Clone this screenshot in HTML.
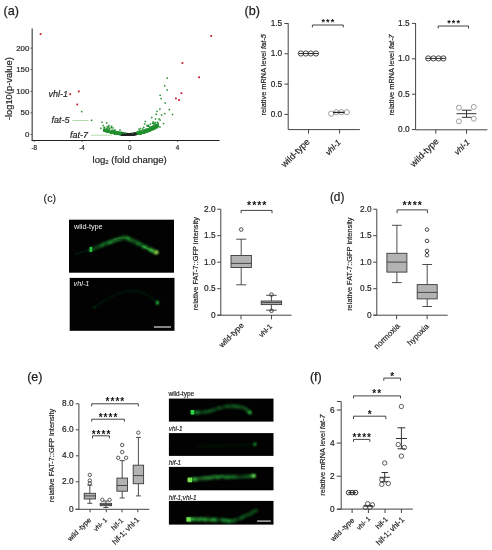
<!DOCTYPE html>
<html><head><meta charset="utf-8"><style>
html,body{margin:0;padding:0;background:#fff;}
svg{display:block;}
text{font-family:"Liberation Sans", Arial, Helvetica, sans-serif;}
</style></head><body>
<svg width="492" height="550" viewBox="0 0 492 550">
<rect x="0" y="0" width="492" height="550" fill="#fff"/>
<text x="3.50" y="15.00" font-size="12.6" text-anchor="start" fill="#222" stroke="#222" stroke-width="0.25">(a)</text>
<text x="244.60" y="15.00" font-size="12.6" text-anchor="start" fill="#222" stroke="#222" stroke-width="0.25">(b)</text>
<text x="43.6" y="201.6" font-size="11.6" textLength="12.4" lengthAdjust="spacingAndGlyphs" fill="#222" stroke="#222" stroke-width="0.15">(c)</text>
<text x="329.90" y="201.40" font-size="11.9" text-anchor="start" fill="#222" stroke="#222" stroke-width="0.2">(d)</text>
<text x="27.20" y="381.30" font-size="12.5" text-anchor="start" fill="#222" stroke="#222" stroke-width="0.25">(e)</text>
<text x="309.90" y="381.20" font-size="12.6" text-anchor="start" fill="#222" stroke="#222" stroke-width="0.25">(f)</text>
<line x1="32.20" y1="28.40" x2="32.20" y2="140.40" stroke="#555" stroke-width="1.3" />
<line x1="31.60" y1="140.50" x2="219.50" y2="140.50" stroke="#222" stroke-width="1.0" />
<line x1="30.40" y1="134.50" x2="32.20" y2="134.50" stroke="#444" stroke-width="0.8" />
<text x="29.30" y="137.00" font-size="7.9" text-anchor="end" fill="#222" stroke="#222" stroke-width="0.18">0</text>
<line x1="30.40" y1="112.90" x2="32.20" y2="112.90" stroke="#444" stroke-width="0.8" />
<text x="29.30" y="115.40" font-size="7.9" text-anchor="end" fill="#222" stroke="#222" stroke-width="0.18">50</text>
<line x1="30.40" y1="91.30" x2="32.20" y2="91.30" stroke="#444" stroke-width="0.8" />
<text x="29.30" y="93.80" font-size="7.9" text-anchor="end" fill="#222" stroke="#222" stroke-width="0.18">100</text>
<line x1="30.40" y1="69.70" x2="32.20" y2="69.70" stroke="#444" stroke-width="0.8" />
<text x="29.30" y="72.20" font-size="7.9" text-anchor="end" fill="#222" stroke="#222" stroke-width="0.18">150</text>
<line x1="30.40" y1="48.10" x2="32.20" y2="48.10" stroke="#444" stroke-width="0.8" />
<text x="29.30" y="50.60" font-size="7.9" text-anchor="end" fill="#222" stroke="#222" stroke-width="0.18">200</text>
<line x1="34.20" y1="140.40" x2="34.20" y2="142.00" stroke="#444" stroke-width="0.8" />
<text x="34.20" y="150.00" font-size="6.3" text-anchor="middle" fill="#222" stroke="#222" stroke-width="0.18">-8</text>
<line x1="82.00" y1="140.40" x2="82.00" y2="142.00" stroke="#444" stroke-width="0.8" />
<text x="82.00" y="150.00" font-size="6.3" text-anchor="middle" fill="#222" stroke="#222" stroke-width="0.18">-4</text>
<line x1="129.80" y1="140.40" x2="129.80" y2="142.00" stroke="#444" stroke-width="0.8" />
<text x="129.80" y="150.00" font-size="6.3" text-anchor="middle" fill="#222" stroke="#222" stroke-width="0.18">0</text>
<line x1="177.60" y1="140.40" x2="177.60" y2="142.00" stroke="#444" stroke-width="0.8" />
<text x="177.60" y="150.00" font-size="6.3" text-anchor="middle" fill="#222" stroke="#222" stroke-width="0.18">4</text>
<text x="12.00" y="88.70" font-size="9.4" text-anchor="middle" fill="#222" transform="rotate(-90 12.00 88.70)" stroke="#222" stroke-width="0.18">-log10(p-value)</text>
<text x="92.6" y="162.8" font-size="9.5" fill="#222" stroke="#222" stroke-width="0.18">log<tspan font-size="6" dy="1.2">2</tspan><tspan dy="-1.2"> (fold change)</tspan></text>
<text x="48.50" y="96.80" font-size="9" text-anchor="start" fill="#222" font-style="italic" stroke="#222" stroke-width="0.18">vhl-1</text>
<text x="51.40" y="122.70" font-size="9" text-anchor="start" fill="#222" font-style="italic" stroke="#222" stroke-width="0.18">fat-5</text>
<text x="69.90" y="137.60" font-size="9" text-anchor="start" fill="#222" font-style="italic" stroke="#222" stroke-width="0.18">fat-7</text>
<line x1="72.40" y1="120.50" x2="88.40" y2="120.50" stroke="#a8d8a0" stroke-width="0.9" />
<line x1="91.20" y1="135.20" x2="112.00" y2="135.20" stroke="#a8d8a0" stroke-width="0.9" />
<rect x="124.78" y="134.00" width="1.5" height="1.5" fill="#222"/>
<rect x="131.09" y="133.42" width="1.5" height="1.5" fill="#222"/>
<rect x="133.74" y="132.93" width="1.5" height="1.5" fill="#222"/>
<rect x="134.37" y="132.86" width="1.5" height="1.5" fill="#222"/>
<rect x="119.84" y="132.39" width="1.5" height="1.5" fill="#222"/>
<rect x="125.66" y="133.70" width="1.5" height="1.5" fill="#222"/>
<rect x="125.66" y="134.19" width="1.5" height="1.5" fill="#222"/>
<rect x="129.56" y="133.38" width="1.5" height="1.5" fill="#222"/>
<rect x="121.64" y="132.70" width="1.5" height="1.5" fill="#222"/>
<rect x="123.85" y="134.05" width="1.5" height="1.5" fill="#222"/>
<rect x="124.14" y="133.74" width="1.5" height="1.5" fill="#222"/>
<rect x="126.23" y="133.52" width="1.5" height="1.5" fill="#222"/>
<rect x="129.41" y="133.81" width="1.5" height="1.5" fill="#222"/>
<rect x="125.71" y="133.91" width="1.5" height="1.5" fill="#222"/>
<rect x="133.97" y="132.70" width="1.5" height="1.5" fill="#222"/>
<rect x="123.36" y="133.19" width="1.5" height="1.5" fill="#222"/>
<rect x="124.59" y="133.30" width="1.5" height="1.5" fill="#222"/>
<rect x="131.82" y="133.79" width="1.5" height="1.5" fill="#222"/>
<rect x="122.64" y="133.53" width="1.5" height="1.5" fill="#222"/>
<rect x="121.44" y="133.80" width="1.5" height="1.5" fill="#222"/>
<rect x="122.15" y="133.93" width="1.5" height="1.5" fill="#222"/>
<rect x="122.79" y="133.34" width="1.5" height="1.5" fill="#222"/>
<rect x="127.75" y="133.80" width="1.5" height="1.5" fill="#222"/>
<rect x="126.61" y="134.10" width="1.5" height="1.5" fill="#222"/>
<rect x="136.67" y="132.72" width="1.5" height="1.5" fill="#222"/>
<rect x="130.31" y="133.33" width="1.5" height="1.5" fill="#222"/>
<rect x="136.46" y="133.32" width="1.5" height="1.5" fill="#222"/>
<rect x="127.19" y="133.85" width="1.5" height="1.5" fill="#222"/>
<rect x="122.63" y="133.39" width="1.5" height="1.5" fill="#222"/>
<rect x="129.52" y="134.15" width="1.5" height="1.5" fill="#222"/>
<rect x="120.32" y="132.91" width="1.5" height="1.5" fill="#222"/>
<rect x="130.28" y="133.70" width="1.5" height="1.5" fill="#222"/>
<rect x="120.86" y="133.09" width="1.5" height="1.5" fill="#222"/>
<rect x="122.14" y="133.08" width="1.5" height="1.5" fill="#222"/>
<rect x="129.36" y="133.94" width="1.5" height="1.5" fill="#222"/>
<rect x="128.33" y="133.76" width="1.5" height="1.5" fill="#222"/>
<rect x="127.01" y="133.94" width="1.5" height="1.5" fill="#222"/>
<rect x="135.51" y="133.35" width="1.5" height="1.5" fill="#222"/>
<rect x="124.41" y="133.93" width="1.5" height="1.5" fill="#222"/>
<rect x="123.09" y="133.51" width="1.5" height="1.5" fill="#222"/>
<rect x="126.68" y="133.61" width="1.5" height="1.5" fill="#222"/>
<rect x="135.84" y="133.46" width="1.5" height="1.5" fill="#222"/>
<rect x="131.12" y="133.80" width="1.5" height="1.5" fill="#222"/>
<rect x="133.28" y="132.82" width="1.5" height="1.5" fill="#222"/>
<rect x="127.51" y="133.92" width="1.5" height="1.5" fill="#222"/>
<rect x="126.79" y="133.96" width="1.5" height="1.5" fill="#222"/>
<rect x="130.18" y="133.40" width="1.5" height="1.5" fill="#222"/>
<rect x="131.12" y="133.66" width="1.5" height="1.5" fill="#222"/>
<rect x="131.76" y="133.87" width="1.5" height="1.5" fill="#222"/>
<rect x="121.68" y="132.96" width="1.5" height="1.5" fill="#222"/>
<rect x="129.97" y="133.94" width="1.5" height="1.5" fill="#222"/>
<rect x="129.97" y="133.45" width="1.5" height="1.5" fill="#222"/>
<rect x="124.05" y="133.06" width="1.5" height="1.5" fill="#222"/>
<rect x="121.71" y="133.54" width="1.5" height="1.5" fill="#222"/>
<rect x="131.12" y="133.27" width="1.5" height="1.5" fill="#222"/>
<rect x="122.22" y="133.17" width="1.5" height="1.5" fill="#222"/>
<rect x="130.40" y="134.20" width="1.5" height="1.5" fill="#222"/>
<rect x="130.52" y="133.65" width="1.5" height="1.5" fill="#222"/>
<rect x="124.62" y="134.15" width="1.5" height="1.5" fill="#222"/>
<rect x="135.80" y="132.20" width="1.5" height="1.5" fill="#222"/>
<rect x="124.91" y="133.85" width="1.5" height="1.5" fill="#222"/>
<rect x="125.48" y="133.71" width="1.5" height="1.5" fill="#222"/>
<rect x="132.23" y="133.09" width="1.5" height="1.5" fill="#222"/>
<rect x="122.69" y="133.64" width="1.5" height="1.5" fill="#222"/>
<rect x="134.04" y="133.64" width="1.5" height="1.5" fill="#222"/>
<rect x="124.15" y="133.56" width="1.5" height="1.5" fill="#222"/>
<rect x="129.59" y="133.53" width="1.5" height="1.5" fill="#222"/>
<rect x="131.80" y="133.16" width="1.5" height="1.5" fill="#222"/>
<rect x="131.60" y="133.77" width="1.5" height="1.5" fill="#222"/>
<rect x="126.53" y="132.82" width="1.5" height="1.5" fill="#222"/>
<rect x="126.99" y="134.08" width="1.5" height="1.5" fill="#222"/>
<rect x="129.78" y="133.69" width="1.5" height="1.5" fill="#222"/>
<rect x="121.51" y="133.74" width="1.5" height="1.5" fill="#222"/>
<rect x="128.45" y="133.24" width="1.5" height="1.5" fill="#222"/>
<rect x="124.25" y="133.78" width="1.5" height="1.5" fill="#222"/>
<rect x="129.77" y="133.88" width="1.5" height="1.5" fill="#222"/>
<rect x="132.17" y="133.41" width="1.5" height="1.5" fill="#222"/>
<rect x="127.58" y="134.05" width="1.5" height="1.5" fill="#222"/>
<rect x="127.46" y="134.05" width="1.5" height="1.5" fill="#222"/>
<rect x="133.46" y="133.61" width="1.5" height="1.5" fill="#222"/>
<rect x="120.50" y="133.86" width="1.5" height="1.5" fill="#222"/>
<rect x="134.15" y="132.84" width="1.5" height="1.5" fill="#222"/>
<rect x="125.43" y="133.41" width="1.5" height="1.5" fill="#222"/>
<rect x="121.10" y="133.35" width="1.5" height="1.5" fill="#222"/>
<rect x="127.10" y="133.35" width="1.5" height="1.5" fill="#222"/>
<rect x="124.18" y="132.84" width="1.5" height="1.5" fill="#222"/>
<rect x="133.13" y="132.65" width="1.5" height="1.5" fill="#222"/>
<rect x="126.34" y="133.89" width="1.5" height="1.5" fill="#222"/>
<rect x="131.62" y="133.80" width="1.5" height="1.5" fill="#222"/>
<rect x="122.28" y="133.63" width="1.5" height="1.5" fill="#222"/>
<rect x="130.16" y="133.65" width="1.5" height="1.5" fill="#222"/>
<rect x="120.82" y="133.56" width="1.5" height="1.5" fill="#222"/>
<rect x="135.28" y="133.51" width="1.5" height="1.5" fill="#222"/>
<rect x="121.18" y="132.72" width="1.5" height="1.5" fill="#222"/>
<rect x="120.80" y="133.89" width="1.5" height="1.5" fill="#222"/>
<rect x="125.60" y="134.19" width="1.5" height="1.5" fill="#222"/>
<rect x="134.12" y="133.79" width="1.5" height="1.5" fill="#222"/>
<rect x="123.19" y="133.84" width="1.5" height="1.5" fill="#222"/>
<rect x="122.22" y="132.45" width="1.5" height="1.5" fill="#222"/>
<rect x="133.37" y="133.22" width="1.5" height="1.5" fill="#222"/>
<rect x="128.76" y="133.27" width="1.5" height="1.5" fill="#222"/>
<rect x="122.65" y="132.68" width="1.5" height="1.5" fill="#222"/>
<rect x="128.58" y="134.07" width="1.5" height="1.5" fill="#222"/>
<rect x="124.17" y="133.57" width="1.5" height="1.5" fill="#222"/>
<rect x="126.92" y="133.19" width="1.5" height="1.5" fill="#222"/>
<rect x="128.69" y="133.26" width="1.5" height="1.5" fill="#222"/>
<rect x="126.33" y="134.03" width="1.5" height="1.5" fill="#222"/>
<rect x="123.45" y="133.82" width="1.5" height="1.5" fill="#222"/>
<rect x="134.59" y="133.19" width="1.5" height="1.5" fill="#222"/>
<rect x="130.58" y="132.93" width="1.5" height="1.5" fill="#222"/>
<rect x="133.35" y="133.99" width="1.5" height="1.5" fill="#222"/>
<rect x="125.79" y="133.22" width="1.5" height="1.5" fill="#222"/>
<rect x="133.15" y="133.90" width="1.5" height="1.5" fill="#222"/>
<rect x="122.63" y="133.65" width="1.5" height="1.5" fill="#222"/>
<rect x="136.34" y="133.28" width="1.5" height="1.5" fill="#222"/>
<rect x="120.58" y="133.37" width="1.5" height="1.5" fill="#222"/>
<rect x="132.02" y="133.51" width="1.5" height="1.5" fill="#222"/>
<rect x="124.39" y="134.07" width="1.5" height="1.5" fill="#222"/>
<rect x="125.17" y="133.94" width="1.5" height="1.5" fill="#222"/>
<rect x="133.98" y="133.40" width="1.5" height="1.5" fill="#222"/>
<rect x="121.56" y="132.42" width="1.5" height="1.5" fill="#222"/>
<rect x="133.14" y="132.89" width="1.5" height="1.5" fill="#222"/>
<rect x="130.50" y="133.86" width="1.5" height="1.5" fill="#222"/>
<rect x="135.37" y="133.40" width="1.5" height="1.5" fill="#222"/>
<rect x="130.11" y="133.88" width="1.5" height="1.5" fill="#222"/>
<rect x="122.45" y="133.89" width="1.5" height="1.5" fill="#222"/>
<rect x="124.64" y="133.74" width="1.5" height="1.5" fill="#222"/>
<rect x="124.06" y="133.87" width="1.5" height="1.5" fill="#222"/>
<rect x="126.33" y="134.22" width="1.5" height="1.5" fill="#222"/>
<rect x="125.19" y="133.45" width="1.5" height="1.5" fill="#222"/>
<rect x="134.88" y="133.30" width="1.5" height="1.5" fill="#222"/>
<rect x="127.00" y="133.74" width="1.5" height="1.5" fill="#222"/>
<rect x="130.47" y="133.38" width="1.5" height="1.5" fill="#222"/>
<rect x="124.92" y="133.93" width="1.5" height="1.5" fill="#222"/>
<rect x="130.37" y="132.95" width="1.5" height="1.5" fill="#222"/>
<rect x="130.47" y="133.68" width="1.5" height="1.5" fill="#222"/>
<rect x="126.98" y="134.08" width="1.5" height="1.5" fill="#222"/>
<rect x="121.79" y="133.23" width="1.5" height="1.5" fill="#222"/>
<rect x="131.97" y="132.95" width="1.5" height="1.5" fill="#222"/>
<rect x="120.23" y="133.58" width="1.5" height="1.5" fill="#222"/>
<rect x="126.79" y="134.22" width="1.5" height="1.5" fill="#222"/>
<rect x="133.58" y="133.55" width="1.5" height="1.5" fill="#222"/>
<rect x="129.04" y="134.24" width="1.5" height="1.5" fill="#222"/>
<rect x="134.38" y="133.41" width="1.5" height="1.5" fill="#222"/>
<rect x="124.30" y="133.74" width="1.5" height="1.5" fill="#222"/>
<rect x="129.18" y="134.23" width="1.5" height="1.5" fill="#222"/>
<rect x="130.49" y="133.51" width="1.5" height="1.5" fill="#222"/>
<rect x="119.98" y="132.67" width="1.5" height="1.5" fill="#222"/>
<rect x="129.33" y="133.97" width="1.5" height="1.5" fill="#222"/>
<rect x="133.97" y="132.73" width="1.5" height="1.5" fill="#222"/>
<rect x="127.56" y="134.00" width="1.5" height="1.5" fill="#222"/>
<rect x="131.84" y="132.95" width="1.5" height="1.5" fill="#222"/>
<rect x="121.04" y="133.92" width="1.5" height="1.5" fill="#222"/>
<rect x="119.85" y="132.23" width="1.5" height="1.5" fill="#222"/>
<rect x="135.83" y="133.60" width="1.5" height="1.5" fill="#222"/>
<rect x="135.63" y="132.98" width="1.5" height="1.5" fill="#222"/>
<rect x="133.17" y="133.90" width="1.5" height="1.5" fill="#222"/>
<rect x="132.83" y="133.06" width="1.5" height="1.5" fill="#222"/>
<rect x="120.12" y="133.66" width="1.5" height="1.5" fill="#222"/>
<rect x="121.71" y="133.41" width="1.5" height="1.5" fill="#222"/>
<rect x="129.95" y="133.49" width="1.5" height="1.5" fill="#222"/>
<rect x="128.06" y="133.25" width="1.5" height="1.5" fill="#222"/>
<rect x="124.62" y="133.74" width="1.5" height="1.5" fill="#222"/>
<rect x="126.82" y="134.11" width="1.5" height="1.5" fill="#222"/>
<rect x="128.12" y="133.46" width="1.5" height="1.5" fill="#222"/>
<rect x="128.79" y="133.84" width="1.5" height="1.5" fill="#222"/>
<rect x="131.49" y="133.80" width="1.5" height="1.5" fill="#222"/>
<rect x="123.77" y="132.71" width="1.5" height="1.5" fill="#222"/>
<rect x="126.26" y="133.81" width="1.5" height="1.5" fill="#222"/>
<rect x="131.14" y="133.79" width="1.5" height="1.5" fill="#222"/>
<rect x="129.64" y="133.33" width="1.5" height="1.5" fill="#222"/>
<rect x="134.37" y="133.36" width="1.5" height="1.5" fill="#222"/>
<rect x="132.02" y="133.15" width="1.5" height="1.5" fill="#222"/>
<rect x="130.97" y="133.57" width="1.5" height="1.5" fill="#222"/>
<rect x="134.87" y="133.57" width="1.5" height="1.5" fill="#222"/>
<rect x="125.97" y="133.25" width="1.5" height="1.5" fill="#222"/>
<rect x="136.46" y="132.46" width="1.5" height="1.5" fill="#222"/>
<rect x="123.21" y="134.05" width="1.5" height="1.5" fill="#222"/>
<rect x="125.69" y="133.50" width="1.5" height="1.5" fill="#222"/>
<rect x="120.63" y="133.78" width="1.5" height="1.5" fill="#222"/>
<rect x="122.34" y="133.66" width="1.5" height="1.5" fill="#222"/>
<rect x="133.73" y="132.86" width="1.5" height="1.5" fill="#222"/>
<rect x="132.95" y="133.22" width="1.5" height="1.5" fill="#222"/>
<rect x="123.31" y="132.83" width="1.5" height="1.5" fill="#222"/>
<rect x="126.11" y="134.20" width="1.5" height="1.5" fill="#222"/>
<rect x="128.99" y="134.15" width="1.5" height="1.5" fill="#222"/>
<rect x="129.10" y="133.77" width="1.5" height="1.5" fill="#222"/>
<rect x="125.26" y="133.13" width="1.5" height="1.5" fill="#222"/>
<rect x="129.91" y="134.22" width="1.5" height="1.5" fill="#222"/>
<rect x="123.60" y="133.61" width="1.5" height="1.5" fill="#222"/>
<rect x="129.98" y="133.83" width="1.5" height="1.5" fill="#222"/>
<rect x="133.74" y="132.75" width="1.5" height="1.5" fill="#222"/>
<rect x="127.65" y="133.57" width="1.5" height="1.5" fill="#222"/>
<rect x="120.14" y="133.59" width="1.5" height="1.5" fill="#222"/>
<rect x="130.15" y="132.89" width="1.5" height="1.5" fill="#222"/>
<rect x="133.75" y="133.15" width="1.5" height="1.5" fill="#222"/>
<rect x="125.70" y="133.03" width="1.5" height="1.5" fill="#222"/>
<rect x="128.82" y="133.19" width="1.5" height="1.5" fill="#222"/>
<rect x="126.62" y="134.05" width="1.5" height="1.5" fill="#222"/>
<rect x="133.28" y="133.70" width="1.5" height="1.5" fill="#222"/>
<rect x="120.14" y="132.90" width="1.5" height="1.5" fill="#222"/>
<rect x="130.61" y="133.72" width="1.5" height="1.5" fill="#222"/>
<rect x="120.01" y="133.44" width="1.5" height="1.5" fill="#222"/>
<rect x="125.18" y="133.49" width="1.5" height="1.5" fill="#222"/>
<rect x="121.11" y="133.44" width="1.5" height="1.5" fill="#222"/>
<rect x="122.36" y="133.35" width="1.5" height="1.5" fill="#222"/>
<rect x="131.47" y="133.22" width="1.5" height="1.5" fill="#222"/>
<rect x="135.40" y="133.74" width="1.5" height="1.5" fill="#222"/>
<rect x="120.21" y="133.73" width="1.5" height="1.5" fill="#222"/>
<rect x="131.51" y="133.82" width="1.5" height="1.5" fill="#222"/>
<rect x="130.14" y="134.21" width="1.5" height="1.5" fill="#222"/>
<rect x="130.09" y="133.97" width="1.5" height="1.5" fill="#222"/>
<rect x="134.45" y="132.68" width="1.5" height="1.5" fill="#222"/>
<rect x="131.32" y="133.23" width="1.5" height="1.5" fill="#222"/>
<rect x="125.46" y="133.71" width="1.5" height="1.5" fill="#222"/>
<rect x="126.25" y="133.41" width="1.5" height="1.5" fill="#222"/>
<rect x="132.06" y="133.97" width="1.5" height="1.5" fill="#222"/>
<rect x="121.22" y="133.33" width="1.5" height="1.5" fill="#222"/>
<rect x="124.91" y="133.81" width="1.5" height="1.5" fill="#222"/>
<rect x="131.41" y="133.36" width="1.5" height="1.5" fill="#222"/>
<rect x="120.32" y="132.27" width="1.5" height="1.5" fill="#222"/>
<rect x="131.21" y="133.45" width="1.5" height="1.5" fill="#222"/>
<rect x="136.50" y="132.55" width="1.5" height="1.5" fill="#222"/>
<rect x="131.34" y="133.97" width="1.5" height="1.5" fill="#222"/>
<rect x="128.62" y="133.77" width="1.5" height="1.5" fill="#222"/>
<rect x="136.62" y="132.83" width="1.5" height="1.5" fill="#222"/>
<rect x="131.63" y="134.00" width="1.5" height="1.5" fill="#222"/>
<rect x="123.81" y="133.88" width="1.5" height="1.5" fill="#222"/>
<rect x="127.61" y="133.44" width="1.5" height="1.5" fill="#222"/>
<rect x="127.36" y="133.35" width="1.5" height="1.5" fill="#222"/>
<rect x="121.96" y="133.76" width="1.5" height="1.5" fill="#222"/>
<rect x="130.36" y="133.24" width="1.5" height="1.5" fill="#222"/>
<rect x="135.37" y="133.28" width="1.5" height="1.5" fill="#222"/>
<rect x="135.92" y="133.21" width="1.5" height="1.5" fill="#222"/>
<rect x="124.84" y="133.12" width="1.5" height="1.5" fill="#222"/>
<rect x="127.30" y="133.24" width="1.5" height="1.5" fill="#222"/>
<rect x="121.28" y="132.87" width="1.5" height="1.5" fill="#222"/>
<rect x="134.32" y="132.83" width="1.5" height="1.5" fill="#222"/>
<rect x="125.31" y="133.03" width="1.5" height="1.5" fill="#222"/>
<rect x="129.75" y="133.72" width="1.5" height="1.5" fill="#222"/>
<rect x="131.28" y="133.35" width="1.5" height="1.5" fill="#222"/>
<rect x="134.25" y="133.57" width="1.5" height="1.5" fill="#222"/>
<rect x="133.54" y="133.87" width="1.5" height="1.5" fill="#222"/>
<rect x="136.55" y="133.16" width="1.5" height="1.5" fill="#222"/>
<rect x="132.12" y="133.08" width="1.5" height="1.5" fill="#222"/>
<rect x="135.27" y="133.44" width="1.5" height="1.5" fill="#222"/>
<rect x="135.56" y="133.36" width="1.5" height="1.5" fill="#222"/>
<rect x="131.36" y="133.32" width="1.5" height="1.5" fill="#222"/>
<rect x="134.67" y="133.29" width="1.5" height="1.5" fill="#222"/>
<rect x="124.59" y="133.23" width="1.5" height="1.5" fill="#222"/>
<rect x="133.27" y="133.66" width="1.5" height="1.5" fill="#222"/>
<rect x="129.18" y="134.20" width="1.5" height="1.5" fill="#222"/>
<rect x="130.21" y="133.47" width="1.5" height="1.5" fill="#222"/>
<rect x="122.06" y="132.60" width="1.5" height="1.5" fill="#222"/>
<rect x="130.29" y="134.11" width="1.5" height="1.5" fill="#222"/>
<rect x="131.59" y="133.88" width="1.5" height="1.5" fill="#222"/>
<rect x="123.49" y="134.10" width="1.5" height="1.5" fill="#222"/>
<rect x="121.66" y="133.16" width="1.5" height="1.5" fill="#222"/>
<rect x="123.94" y="133.64" width="1.5" height="1.5" fill="#222"/>
<rect x="126.64" y="133.03" width="1.5" height="1.5" fill="#222"/>
<rect x="125.91" y="133.67" width="1.5" height="1.5" fill="#222"/>
<rect x="131.22" y="132.86" width="1.5" height="1.5" fill="#222"/>
<rect x="135.88" y="133.44" width="1.5" height="1.5" fill="#222"/>
<rect x="126.50" y="133.60" width="1.5" height="1.5" fill="#222"/>
<rect x="134.23" y="133.87" width="1.5" height="1.5" fill="#222"/>
<rect x="132.14" y="133.88" width="1.5" height="1.5" fill="#222"/>
<rect x="132.96" y="133.45" width="1.5" height="1.5" fill="#222"/>
<rect x="122.28" y="132.97" width="1.5" height="1.5" fill="#222"/>
<rect x="131.62" y="133.51" width="1.5" height="1.5" fill="#222"/>
<rect x="122.00" y="133.59" width="1.5" height="1.5" fill="#222"/>
<rect x="122.05" y="133.29" width="1.5" height="1.5" fill="#222"/>
<rect x="128.74" y="133.95" width="1.5" height="1.5" fill="#222"/>
<rect x="124.59" y="134.07" width="1.5" height="1.5" fill="#222"/>
<rect x="126.88" y="134.21" width="1.5" height="1.5" fill="#222"/>
<rect x="133.88" y="133.33" width="1.5" height="1.5" fill="#222"/>
<rect x="126.24" y="134.18" width="1.5" height="1.5" fill="#222"/>
<rect x="121.62" y="133.14" width="1.5" height="1.5" fill="#222"/>
<rect x="123.25" y="133.31" width="1.5" height="1.5" fill="#222"/>
<rect x="127.58" y="133.63" width="1.5" height="1.5" fill="#222"/>
<rect x="110.70" y="132.03" width="1.5" height="1.5" fill="#22902e"/>
<rect x="107.33" y="131.15" width="1.5" height="1.5" fill="#22902e"/>
<rect x="148.55" y="129.77" width="1.5" height="1.5" fill="#22902e"/>
<rect x="156.92" y="126.05" width="1.5" height="1.5" fill="#22902e"/>
<rect x="150.32" y="129.65" width="1.5" height="1.5" fill="#22902e"/>
<rect x="119.52" y="133.24" width="1.5" height="1.5" fill="#22902e"/>
<rect x="118.61" y="132.74" width="1.5" height="1.5" fill="#22902e"/>
<rect x="105.59" y="130.40" width="1.5" height="1.5" fill="#22902e"/>
<rect x="119.36" y="133.52" width="1.5" height="1.5" fill="#22902e"/>
<rect x="106.09" y="130.69" width="1.5" height="1.5" fill="#22902e"/>
<rect x="120.98" y="131.40" width="1.5" height="1.5" fill="#22902e"/>
<rect x="104.45" y="129.78" width="1.5" height="1.5" fill="#22902e"/>
<rect x="117.61" y="132.97" width="1.5" height="1.5" fill="#22902e"/>
<rect x="139.97" y="132.58" width="1.5" height="1.5" fill="#22902e"/>
<rect x="144.13" y="131.22" width="1.5" height="1.5" fill="#22902e"/>
<rect x="148.67" y="130.38" width="1.5" height="1.5" fill="#22902e"/>
<rect x="111.66" y="132.29" width="1.5" height="1.5" fill="#22902e"/>
<rect x="105.55" y="130.96" width="1.5" height="1.5" fill="#22902e"/>
<rect x="138.76" y="132.69" width="1.5" height="1.5" fill="#22902e"/>
<rect x="143.38" y="130.61" width="1.5" height="1.5" fill="#22902e"/>
<rect x="151.76" y="128.36" width="1.5" height="1.5" fill="#22902e"/>
<rect x="115.24" y="133.02" width="1.5" height="1.5" fill="#22902e"/>
<rect x="152.62" y="127.19" width="1.5" height="1.5" fill="#22902e"/>
<rect x="142.12" y="130.97" width="1.5" height="1.5" fill="#22902e"/>
<rect x="106.02" y="129.81" width="1.5" height="1.5" fill="#22902e"/>
<rect x="111.34" y="132.24" width="1.5" height="1.5" fill="#22902e"/>
<rect x="110.72" y="131.96" width="1.5" height="1.5" fill="#22902e"/>
<rect x="122.61" y="132.34" width="1.5" height="1.5" fill="#22902e"/>
<rect x="149.79" y="128.32" width="1.5" height="1.5" fill="#22902e"/>
<rect x="107.06" y="131.39" width="1.5" height="1.5" fill="#22902e"/>
<rect x="103.54" y="127.26" width="1.5" height="1.5" fill="#22902e"/>
<rect x="141.54" y="132.41" width="1.5" height="1.5" fill="#22902e"/>
<rect x="139.34" y="131.86" width="1.5" height="1.5" fill="#22902e"/>
<rect x="144.65" y="131.61" width="1.5" height="1.5" fill="#22902e"/>
<rect x="147.69" y="129.55" width="1.5" height="1.5" fill="#22902e"/>
<rect x="140.23" y="131.31" width="1.5" height="1.5" fill="#22902e"/>
<rect x="117.90" y="133.49" width="1.5" height="1.5" fill="#22902e"/>
<rect x="145.12" y="128.67" width="1.5" height="1.5" fill="#22902e"/>
<rect x="114.95" y="132.84" width="1.5" height="1.5" fill="#22902e"/>
<rect x="113.69" y="131.02" width="1.5" height="1.5" fill="#22902e"/>
<rect x="111.65" y="130.60" width="1.5" height="1.5" fill="#22902e"/>
<rect x="112.25" y="130.51" width="1.5" height="1.5" fill="#22902e"/>
<rect x="118.46" y="132.03" width="1.5" height="1.5" fill="#22902e"/>
<rect x="119.41" y="133.15" width="1.5" height="1.5" fill="#22902e"/>
<rect x="110.71" y="130.26" width="1.5" height="1.5" fill="#22902e"/>
<rect x="148.53" y="129.00" width="1.5" height="1.5" fill="#22902e"/>
<rect x="107.86" y="130.43" width="1.5" height="1.5" fill="#22902e"/>
<rect x="115.72" y="132.50" width="1.5" height="1.5" fill="#22902e"/>
<rect x="109.59" y="131.51" width="1.5" height="1.5" fill="#22902e"/>
<rect x="137.73" y="132.83" width="1.5" height="1.5" fill="#22902e"/>
<rect x="114.70" y="133.10" width="1.5" height="1.5" fill="#22902e"/>
<rect x="140.02" y="132.86" width="1.5" height="1.5" fill="#22902e"/>
<rect x="103.25" y="130.05" width="1.5" height="1.5" fill="#22902e"/>
<rect x="142.86" y="131.59" width="1.5" height="1.5" fill="#22902e"/>
<rect x="114.14" y="132.94" width="1.5" height="1.5" fill="#22902e"/>
<rect x="138.40" y="132.73" width="1.5" height="1.5" fill="#22902e"/>
<rect x="115.08" y="133.12" width="1.5" height="1.5" fill="#22902e"/>
<rect x="115.27" y="132.78" width="1.5" height="1.5" fill="#22902e"/>
<rect x="154.97" y="126.67" width="1.5" height="1.5" fill="#22902e"/>
<rect x="106.89" y="131.30" width="1.5" height="1.5" fill="#22902e"/>
<rect x="142.31" y="132.11" width="1.5" height="1.5" fill="#22902e"/>
<rect x="115.73" y="131.73" width="1.5" height="1.5" fill="#22902e"/>
<rect x="113.21" y="132.00" width="1.5" height="1.5" fill="#22902e"/>
<rect x="103.26" y="129.20" width="1.5" height="1.5" fill="#22902e"/>
<rect x="141.66" y="129.42" width="1.5" height="1.5" fill="#22902e"/>
<rect x="140.79" y="132.30" width="1.5" height="1.5" fill="#22902e"/>
<rect x="104.47" y="130.60" width="1.5" height="1.5" fill="#22902e"/>
<rect x="153.29" y="128.05" width="1.5" height="1.5" fill="#22902e"/>
<rect x="153.72" y="127.18" width="1.5" height="1.5" fill="#22902e"/>
<rect x="140.79" y="132.43" width="1.5" height="1.5" fill="#22902e"/>
<rect x="150.20" y="127.78" width="1.5" height="1.5" fill="#22902e"/>
<rect x="150.57" y="128.37" width="1.5" height="1.5" fill="#22902e"/>
<rect x="108.38" y="131.55" width="1.5" height="1.5" fill="#22902e"/>
<rect x="119.72" y="133.53" width="1.5" height="1.5" fill="#22902e"/>
<rect x="144.78" y="131.40" width="1.5" height="1.5" fill="#22902e"/>
<rect x="116.28" y="131.52" width="1.5" height="1.5" fill="#22902e"/>
<rect x="139.84" y="131.41" width="1.5" height="1.5" fill="#22902e"/>
<rect x="118.01" y="132.82" width="1.5" height="1.5" fill="#22902e"/>
<rect x="138.27" y="133.24" width="1.5" height="1.5" fill="#22902e"/>
<rect x="143.74" y="131.86" width="1.5" height="1.5" fill="#22902e"/>
<rect x="111.39" y="130.24" width="1.5" height="1.5" fill="#22902e"/>
<rect x="138.93" y="132.80" width="1.5" height="1.5" fill="#22902e"/>
<rect x="118.66" y="132.94" width="1.5" height="1.5" fill="#22902e"/>
<rect x="111.07" y="131.41" width="1.5" height="1.5" fill="#22902e"/>
<rect x="156.33" y="126.75" width="1.5" height="1.5" fill="#22902e"/>
<rect x="103.51" y="130.04" width="1.5" height="1.5" fill="#22902e"/>
<rect x="120.51" y="131.97" width="1.5" height="1.5" fill="#22902e"/>
<rect x="138.68" y="131.89" width="1.5" height="1.5" fill="#22902e"/>
<rect x="148.36" y="129.84" width="1.5" height="1.5" fill="#22902e"/>
<rect x="115.78" y="131.93" width="1.5" height="1.5" fill="#22902e"/>
<rect x="136.84" y="132.66" width="1.5" height="1.5" fill="#22902e"/>
<rect x="138.36" y="131.69" width="1.5" height="1.5" fill="#22902e"/>
<rect x="108.17" y="130.15" width="1.5" height="1.5" fill="#22902e"/>
<rect x="109.70" y="131.68" width="1.5" height="1.5" fill="#22902e"/>
<rect x="146.92" y="129.60" width="1.5" height="1.5" fill="#22902e"/>
<rect x="114.64" y="133.07" width="1.5" height="1.5" fill="#22902e"/>
<rect x="144.70" y="130.93" width="1.5" height="1.5" fill="#22902e"/>
<rect x="106.42" y="131.05" width="1.5" height="1.5" fill="#22902e"/>
<rect x="143.68" y="130.02" width="1.5" height="1.5" fill="#22902e"/>
<rect x="117.46" y="133.49" width="1.5" height="1.5" fill="#22902e"/>
<rect x="140.54" y="132.72" width="1.5" height="1.5" fill="#22902e"/>
<rect x="113.10" y="132.19" width="1.5" height="1.5" fill="#22902e"/>
<rect x="143.87" y="131.71" width="1.5" height="1.5" fill="#22902e"/>
<rect x="139.88" y="133.00" width="1.5" height="1.5" fill="#22902e"/>
<rect x="116.22" y="133.07" width="1.5" height="1.5" fill="#22902e"/>
<rect x="152.30" y="127.59" width="1.5" height="1.5" fill="#22902e"/>
<rect x="157.13" y="124.65" width="1.5" height="1.5" fill="#22902e"/>
<rect x="114.00" y="132.72" width="1.5" height="1.5" fill="#22902e"/>
<rect x="103.64" y="126.87" width="1.5" height="1.5" fill="#22902e"/>
<rect x="149.30" y="127.68" width="1.5" height="1.5" fill="#22902e"/>
<rect x="145.46" y="130.66" width="1.5" height="1.5" fill="#22902e"/>
<rect x="119.44" y="133.27" width="1.5" height="1.5" fill="#22902e"/>
<rect x="117.66" y="133.08" width="1.5" height="1.5" fill="#22902e"/>
<rect x="117.13" y="130.97" width="1.5" height="1.5" fill="#22902e"/>
<rect x="143.27" y="130.67" width="1.5" height="1.5" fill="#22902e"/>
<rect x="150.62" y="127.77" width="1.5" height="1.5" fill="#22902e"/>
<rect x="110.73" y="131.64" width="1.5" height="1.5" fill="#22902e"/>
<rect x="136.91" y="132.77" width="1.5" height="1.5" fill="#22902e"/>
<rect x="118.93" y="133.52" width="1.5" height="1.5" fill="#22902e"/>
<rect x="138.99" y="130.26" width="1.5" height="1.5" fill="#22902e"/>
<rect x="113.89" y="132.51" width="1.5" height="1.5" fill="#22902e"/>
<rect x="140.27" y="132.92" width="1.5" height="1.5" fill="#22902e"/>
<rect x="113.02" y="131.82" width="1.5" height="1.5" fill="#22902e"/>
<rect x="115.64" y="132.69" width="1.5" height="1.5" fill="#22902e"/>
<rect x="117.79" y="133.03" width="1.5" height="1.5" fill="#22902e"/>
<rect x="117.43" y="131.95" width="1.5" height="1.5" fill="#22902e"/>
<rect x="124.64" y="132.39" width="1.5" height="1.5" fill="#22902e"/>
<rect x="137.36" y="133.36" width="1.5" height="1.5" fill="#22902e"/>
<rect x="141.98" y="132.37" width="1.5" height="1.5" fill="#22902e"/>
<rect x="113.82" y="132.68" width="1.5" height="1.5" fill="#22902e"/>
<rect x="119.13" y="132.98" width="1.5" height="1.5" fill="#22902e"/>
<rect x="110.90" y="132.20" width="1.5" height="1.5" fill="#22902e"/>
<rect x="117.40" y="131.16" width="1.5" height="1.5" fill="#22902e"/>
<rect x="117.00" y="131.96" width="1.5" height="1.5" fill="#22902e"/>
<rect x="153.77" y="127.64" width="1.5" height="1.5" fill="#22902e"/>
<rect x="137.88" y="133.25" width="1.5" height="1.5" fill="#22902e"/>
<rect x="137.55" y="133.42" width="1.5" height="1.5" fill="#22902e"/>
<rect x="155.95" y="124.99" width="1.5" height="1.5" fill="#22902e"/>
<rect x="115.40" y="131.30" width="1.5" height="1.5" fill="#22902e"/>
<rect x="156.04" y="126.85" width="1.5" height="1.5" fill="#22902e"/>
<rect x="146.89" y="130.08" width="1.5" height="1.5" fill="#22902e"/>
<rect x="120.55" y="132.26" width="1.5" height="1.5" fill="#22902e"/>
<rect x="114.65" y="133.04" width="1.5" height="1.5" fill="#22902e"/>
<rect x="119.07" y="133.08" width="1.5" height="1.5" fill="#22902e"/>
<rect x="114.18" y="132.35" width="1.5" height="1.5" fill="#22902e"/>
<rect x="105.62" y="130.93" width="1.5" height="1.5" fill="#22902e"/>
<rect x="152.55" y="126.89" width="1.5" height="1.5" fill="#22902e"/>
<rect x="116.31" y="132.44" width="1.5" height="1.5" fill="#22902e"/>
<rect x="154.66" y="127.31" width="1.5" height="1.5" fill="#22902e"/>
<rect x="144.18" y="131.58" width="1.5" height="1.5" fill="#22902e"/>
<rect x="117.92" y="133.02" width="1.5" height="1.5" fill="#22902e"/>
<rect x="155.76" y="124.06" width="1.5" height="1.5" fill="#22902e"/>
<rect x="139.36" y="132.93" width="1.5" height="1.5" fill="#22902e"/>
<rect x="105.75" y="130.02" width="1.5" height="1.5" fill="#22902e"/>
<rect x="155.88" y="126.38" width="1.5" height="1.5" fill="#22902e"/>
<rect x="117.69" y="131.75" width="1.5" height="1.5" fill="#22902e"/>
<rect x="115.35" y="131.11" width="1.5" height="1.5" fill="#22902e"/>
<rect x="155.83" y="125.66" width="1.5" height="1.5" fill="#22902e"/>
<rect x="154.22" y="126.88" width="1.5" height="1.5" fill="#22902e"/>
<rect x="146.33" y="130.23" width="1.5" height="1.5" fill="#22902e"/>
<rect x="111.26" y="131.90" width="1.5" height="1.5" fill="#22902e"/>
<rect x="146.06" y="130.31" width="1.5" height="1.5" fill="#22902e"/>
<rect x="113.30" y="132.85" width="1.5" height="1.5" fill="#22902e"/>
<rect x="104.15" y="129.38" width="1.5" height="1.5" fill="#22902e"/>
<rect x="114.13" y="129.94" width="1.5" height="1.5" fill="#22902e"/>
<rect x="136.85" y="133.52" width="1.5" height="1.5" fill="#22902e"/>
<rect x="107.65" y="129.22" width="1.5" height="1.5" fill="#22902e"/>
<rect x="115.36" y="133.20" width="1.5" height="1.5" fill="#22902e"/>
<rect x="136.99" y="132.81" width="1.5" height="1.5" fill="#22902e"/>
<rect x="112.02" y="132.27" width="1.5" height="1.5" fill="#22902e"/>
<rect x="143.58" y="130.53" width="1.5" height="1.5" fill="#22902e"/>
<rect x="116.11" y="133.32" width="1.5" height="1.5" fill="#22902e"/>
<rect x="157.25" y="125.88" width="1.5" height="1.5" fill="#22902e"/>
<rect x="148.12" y="128.91" width="1.5" height="1.5" fill="#22902e"/>
<rect x="118.70" y="131.76" width="1.5" height="1.5" fill="#22902e"/>
<rect x="112.87" y="131.10" width="1.5" height="1.5" fill="#22902e"/>
<rect x="116.81" y="131.83" width="1.5" height="1.5" fill="#22902e"/>
<rect x="110.17" y="131.91" width="1.5" height="1.5" fill="#22902e"/>
<rect x="146.79" y="130.66" width="1.5" height="1.5" fill="#22902e"/>
<rect x="141.19" y="131.93" width="1.5" height="1.5" fill="#22902e"/>
<rect x="155.63" y="126.70" width="1.5" height="1.5" fill="#22902e"/>
<rect x="137.17" y="132.58" width="1.5" height="1.5" fill="#22902e"/>
<rect x="143.02" y="132.26" width="1.5" height="1.5" fill="#22902e"/>
<rect x="103.25" y="128.90" width="1.5" height="1.5" fill="#22902e"/>
<rect x="111.35" y="130.91" width="1.5" height="1.5" fill="#22902e"/>
<rect x="137.09" y="131.85" width="1.5" height="1.5" fill="#22902e"/>
<rect x="147.32" y="130.66" width="1.5" height="1.5" fill="#22902e"/>
<rect x="140.73" y="132.64" width="1.5" height="1.5" fill="#22902e"/>
<rect x="154.12" y="125.32" width="1.5" height="1.5" fill="#22902e"/>
<rect x="143.68" y="131.76" width="1.5" height="1.5" fill="#22902e"/>
<rect x="139.28" y="132.82" width="1.5" height="1.5" fill="#22902e"/>
<rect x="142.84" y="132.04" width="1.5" height="1.5" fill="#22902e"/>
<rect x="138.28" y="132.72" width="1.5" height="1.5" fill="#22902e"/>
<rect x="139.15" y="132.08" width="1.5" height="1.5" fill="#22902e"/>
<rect x="136.91" y="133.23" width="1.5" height="1.5" fill="#22902e"/>
<rect x="115.42" y="133.06" width="1.5" height="1.5" fill="#22902e"/>
<rect x="112.31" y="130.39" width="1.5" height="1.5" fill="#22902e"/>
<rect x="108.25" y="130.67" width="1.5" height="1.5" fill="#22902e"/>
<rect x="143.39" y="131.73" width="1.5" height="1.5" fill="#22902e"/>
<rect x="143.32" y="131.94" width="1.5" height="1.5" fill="#22902e"/>
<rect x="155.50" y="125.21" width="1.5" height="1.5" fill="#22902e"/>
<rect x="144.63" y="131.56" width="1.5" height="1.5" fill="#22902e"/>
<rect x="157.23" y="123.22" width="1.5" height="1.5" fill="#22902e"/>
<rect x="155.82" y="126.45" width="1.5" height="1.5" fill="#22902e"/>
<rect x="144.60" y="131.64" width="1.5" height="1.5" fill="#22902e"/>
<rect x="152.46" y="128.49" width="1.5" height="1.5" fill="#22902e"/>
<rect x="111.28" y="130.57" width="1.5" height="1.5" fill="#22902e"/>
<rect x="114.03" y="131.05" width="1.5" height="1.5" fill="#22902e"/>
<rect x="108.30" y="130.29" width="1.5" height="1.5" fill="#22902e"/>
<rect x="157.25" y="125.37" width="1.5" height="1.5" fill="#22902e"/>
<rect x="157.25" y="124.61" width="1.5" height="1.5" fill="#22902e"/>
<rect x="112.15" y="130.91" width="1.5" height="1.5" fill="#22902e"/>
<rect x="147.68" y="130.03" width="1.5" height="1.5" fill="#22902e"/>
<rect x="138.05" y="132.01" width="1.5" height="1.5" fill="#22902e"/>
<rect x="110.61" y="132.24" width="1.5" height="1.5" fill="#22902e"/>
<rect x="116.24" y="132.79" width="1.5" height="1.5" fill="#22902e"/>
<rect x="108.21" y="131.09" width="1.5" height="1.5" fill="#22902e"/>
<rect x="137.99" y="132.81" width="1.5" height="1.5" fill="#22902e"/>
<rect x="103.25" y="129.02" width="1.5" height="1.5" fill="#22902e"/>
<rect x="138.40" y="132.25" width="1.5" height="1.5" fill="#22902e"/>
<rect x="154.73" y="127.80" width="1.5" height="1.5" fill="#22902e"/>
<rect x="115.56" y="132.86" width="1.5" height="1.5" fill="#22902e"/>
<rect x="145.87" y="129.70" width="1.5" height="1.5" fill="#22902e"/>
<rect x="104.97" y="129.63" width="1.5" height="1.5" fill="#22902e"/>
<rect x="149.54" y="130.12" width="1.5" height="1.5" fill="#22902e"/>
<rect x="115.95" y="132.52" width="1.5" height="1.5" fill="#22902e"/>
<rect x="115.26" y="132.95" width="1.5" height="1.5" fill="#22902e"/>
<rect x="111.30" y="132.21" width="1.5" height="1.5" fill="#22902e"/>
<rect x="143.94" y="131.48" width="1.5" height="1.5" fill="#22902e"/>
<rect x="116.83" y="131.20" width="1.5" height="1.5" fill="#22902e"/>
<rect x="143.91" y="130.01" width="1.5" height="1.5" fill="#22902e"/>
<rect x="151.54" y="128.44" width="1.5" height="1.5" fill="#22902e"/>
<rect x="115.64" y="131.89" width="1.5" height="1.5" fill="#22902e"/>
<rect x="119.73" y="132.41" width="1.5" height="1.5" fill="#22902e"/>
<rect x="149.27" y="126.57" width="1.5" height="1.5" fill="#22902e"/>
<rect x="119.72" y="133.44" width="1.5" height="1.5" fill="#22902e"/>
<rect x="137.12" y="131.60" width="1.5" height="1.5" fill="#22902e"/>
<rect x="103.76" y="128.77" width="1.5" height="1.5" fill="#22902e"/>
<rect x="154.27" y="127.61" width="1.5" height="1.5" fill="#22902e"/>
<rect x="104.58" y="130.01" width="1.5" height="1.5" fill="#22902e"/>
<rect x="116.92" y="132.18" width="1.5" height="1.5" fill="#22902e"/>
<rect x="141.71" y="131.97" width="1.5" height="1.5" fill="#22902e"/>
<rect x="148.03" y="129.40" width="1.5" height="1.5" fill="#22902e"/>
<rect x="150.85" y="126.57" width="1.5" height="1.5" fill="#22902e"/>
<rect x="108.52" y="129.02" width="1.5" height="1.5" fill="#22902e"/>
<rect x="112.91" y="132.65" width="1.5" height="1.5" fill="#22902e"/>
<rect x="144.66" y="131.23" width="1.5" height="1.5" fill="#22902e"/>
<rect x="118.08" y="133.51" width="1.5" height="1.5" fill="#22902e"/>
<rect x="106.78" y="131.32" width="1.5" height="1.5" fill="#22902e"/>
<rect x="139.39" y="132.91" width="1.5" height="1.5" fill="#22902e"/>
<rect x="145.54" y="130.33" width="1.5" height="1.5" fill="#22902e"/>
<rect x="142.35" y="131.95" width="1.5" height="1.5" fill="#22902e"/>
<rect x="148.16" y="127.77" width="1.5" height="1.5" fill="#22902e"/>
<rect x="103.25" y="129.51" width="1.5" height="1.5" fill="#22902e"/>
<rect x="146.05" y="129.77" width="1.5" height="1.5" fill="#22902e"/>
<rect x="146.87" y="131.08" width="1.5" height="1.5" fill="#22902e"/>
<rect x="155.11" y="124.96" width="1.5" height="1.5" fill="#22902e"/>
<rect x="114.27" y="132.59" width="1.5" height="1.5" fill="#22902e"/>
<rect x="137.90" y="132.26" width="1.5" height="1.5" fill="#22902e"/>
<rect x="146.37" y="130.48" width="1.5" height="1.5" fill="#22902e"/>
<rect x="109.96" y="131.29" width="1.5" height="1.5" fill="#22902e"/>
<rect x="152.11" y="127.79" width="1.5" height="1.5" fill="#22902e"/>
<rect x="152.00" y="128.05" width="1.5" height="1.5" fill="#22902e"/>
<rect x="152.72" y="128.68" width="1.5" height="1.5" fill="#22902e"/>
<rect x="111.68" y="130.63" width="1.5" height="1.5" fill="#22902e"/>
<rect x="110.95" y="131.38" width="1.5" height="1.5" fill="#22902e"/>
<rect x="118.75" y="132.25" width="1.5" height="1.5" fill="#22902e"/>
<rect x="141.63" y="132.25" width="1.5" height="1.5" fill="#22902e"/>
<rect x="116.11" y="132.78" width="1.5" height="1.5" fill="#22902e"/>
<rect x="156.86" y="125.46" width="1.5" height="1.5" fill="#22902e"/>
<rect x="150.85" y="127.18" width="1.5" height="1.5" fill="#22902e"/>
<rect x="104.15" y="129.94" width="1.5" height="1.5" fill="#22902e"/>
<rect x="146.55" y="130.65" width="1.5" height="1.5" fill="#22902e"/>
<rect x="116.10" y="132.72" width="1.5" height="1.5" fill="#22902e"/>
<rect x="138.44" y="132.06" width="1.5" height="1.5" fill="#22902e"/>
<rect x="115.27" y="132.13" width="1.5" height="1.5" fill="#22902e"/>
<rect x="114.97" y="132.16" width="1.5" height="1.5" fill="#22902e"/>
<rect x="137.06" y="132.29" width="1.5" height="1.5" fill="#22902e"/>
<rect x="137.15" y="132.94" width="1.5" height="1.5" fill="#22902e"/>
<rect x="142.89" y="131.20" width="1.5" height="1.5" fill="#22902e"/>
<rect x="146.03" y="130.99" width="1.5" height="1.5" fill="#22902e"/>
<rect x="111.34" y="131.93" width="1.5" height="1.5" fill="#22902e"/>
<rect x="115.00" y="131.44" width="1.5" height="1.5" fill="#22902e"/>
<rect x="105.64" y="128.98" width="1.5" height="1.5" fill="#22902e"/>
<rect x="140.57" y="131.35" width="1.5" height="1.5" fill="#22902e"/>
<rect x="157.25" y="124.66" width="1.5" height="1.5" fill="#22902e"/>
<rect x="105.42" y="130.77" width="1.5" height="1.5" fill="#22902e"/>
<rect x="141.35" y="132.15" width="1.5" height="1.5" fill="#22902e"/>
<rect x="143.77" y="131.26" width="1.5" height="1.5" fill="#22902e"/>
<rect x="145.74" y="130.78" width="1.5" height="1.5" fill="#22902e"/>
<rect x="156.23" y="125.60" width="1.5" height="1.5" fill="#22902e"/>
<rect x="140.77" y="132.31" width="1.5" height="1.5" fill="#22902e"/>
<rect x="148.94" y="128.57" width="1.5" height="1.5" fill="#22902e"/>
<rect x="137.94" y="132.87" width="1.5" height="1.5" fill="#22902e"/>
<rect x="119.46" y="133.56" width="1.5" height="1.5" fill="#22902e"/>
<rect x="148.80" y="128.96" width="1.5" height="1.5" fill="#22902e"/>
<rect x="110.24" y="131.99" width="1.5" height="1.5" fill="#22902e"/>
<rect x="110.80" y="129.98" width="1.5" height="1.5" fill="#22902e"/>
<rect x="113.35" y="131.48" width="1.5" height="1.5" fill="#22902e"/>
<rect x="143.48" y="130.76" width="1.5" height="1.5" fill="#22902e"/>
<rect x="110.05" y="131.70" width="1.5" height="1.5" fill="#22902e"/>
<rect x="110.34" y="132.24" width="1.5" height="1.5" fill="#22902e"/>
<rect x="149.33" y="129.49" width="1.5" height="1.5" fill="#22902e"/>
<rect x="142.19" y="131.71" width="1.5" height="1.5" fill="#22902e"/>
<rect x="143.10" y="131.96" width="1.5" height="1.5" fill="#22902e"/>
<rect x="137.20" y="133.15" width="1.5" height="1.5" fill="#22902e"/>
<rect x="115.61" y="133.17" width="1.5" height="1.5" fill="#22902e"/>
<rect x="145.36" y="131.15" width="1.5" height="1.5" fill="#22902e"/>
<rect x="116.69" y="131.53" width="1.5" height="1.5" fill="#22902e"/>
<rect x="117.25" y="131.90" width="1.5" height="1.5" fill="#22902e"/>
<rect x="142.17" y="132.43" width="1.5" height="1.5" fill="#22902e"/>
<rect x="119.07" y="132.89" width="1.5" height="1.5" fill="#22902e"/>
<rect x="112.89" y="131.23" width="1.5" height="1.5" fill="#22902e"/>
<rect x="104.84" y="129.13" width="1.5" height="1.5" fill="#22902e"/>
<rect x="117.91" y="132.26" width="1.5" height="1.5" fill="#22902e"/>
<rect x="139.60" y="132.13" width="1.5" height="1.5" fill="#22902e"/>
<rect x="144.96" y="131.05" width="1.5" height="1.5" fill="#22902e"/>
<rect x="145.62" y="131.01" width="1.5" height="1.5" fill="#22902e"/>
<rect x="119.16" y="132.96" width="1.5" height="1.5" fill="#22902e"/>
<rect x="138.19" y="132.93" width="1.5" height="1.5" fill="#22902e"/>
<rect x="141.66" y="132.11" width="1.5" height="1.5" fill="#22902e"/>
<rect x="108.91" y="131.22" width="1.5" height="1.5" fill="#22902e"/>
<rect x="114.88" y="132.95" width="1.5" height="1.5" fill="#22902e"/>
<rect x="140.65" y="132.71" width="1.5" height="1.5" fill="#22902e"/>
<rect x="107.96" y="131.06" width="1.5" height="1.5" fill="#22902e"/>
<rect x="103.25" y="129.44" width="1.5" height="1.5" fill="#22902e"/>
<rect x="140.54" y="130.72" width="1.5" height="1.5" fill="#22902e"/>
<rect x="150.94" y="126.69" width="1.5" height="1.5" fill="#22902e"/>
<rect x="103.25" y="130.13" width="1.5" height="1.5" fill="#22902e"/>
<rect x="107.18" y="129.62" width="1.5" height="1.5" fill="#22902e"/>
<rect x="136.07" y="131.56" width="1.5" height="1.5" fill="#22902e"/>
<rect x="156.25" y="126.13" width="1.5" height="1.5" fill="#22902e"/>
<rect x="143.10" y="131.00" width="1.5" height="1.5" fill="#22902e"/>
<rect x="105.60" y="128.29" width="1.5" height="1.5" fill="#22902e"/>
<rect x="146.90" y="130.31" width="1.5" height="1.5" fill="#22902e"/>
<rect x="138.36" y="132.58" width="1.5" height="1.5" fill="#22902e"/>
<rect x="146.28" y="130.26" width="1.5" height="1.5" fill="#22902e"/>
<rect x="105.65" y="128.59" width="1.5" height="1.5" fill="#22902e"/>
<rect x="141.31" y="131.93" width="1.5" height="1.5" fill="#22902e"/>
<rect x="116.31" y="132.16" width="1.5" height="1.5" fill="#22902e"/>
<rect x="144.11" y="130.54" width="1.5" height="1.5" fill="#22902e"/>
<rect x="103.25" y="130.23" width="1.5" height="1.5" fill="#22902e"/>
<rect x="139.74" y="132.12" width="1.5" height="1.5" fill="#22902e"/>
<rect x="148.91" y="127.48" width="1.5" height="1.5" fill="#22902e"/>
<rect x="137.87" y="132.42" width="1.5" height="1.5" fill="#22902e"/>
<rect x="149.92" y="129.19" width="1.5" height="1.5" fill="#22902e"/>
<rect x="112.60" y="132.42" width="1.5" height="1.5" fill="#22902e"/>
<rect x="116.52" y="132.26" width="1.5" height="1.5" fill="#22902e"/>
<rect x="147.42" y="130.80" width="1.5" height="1.5" fill="#22902e"/>
<rect x="114.45" y="131.46" width="1.5" height="1.5" fill="#22902e"/>
<rect x="113.02" y="132.56" width="1.5" height="1.5" fill="#22902e"/>
<rect x="141.51" y="131.66" width="1.5" height="1.5" fill="#22902e"/>
<rect x="104.75" y="129.22" width="1.5" height="1.5" fill="#22902e"/>
<rect x="137.68" y="133.43" width="1.5" height="1.5" fill="#22902e"/>
<rect x="118.78" y="133.56" width="1.5" height="1.5" fill="#22902e"/>
<rect x="155.25" y="124.54" width="1.5" height="1.5" fill="#22902e"/>
<rect x="140.11" y="130.34" width="1.5" height="1.5" fill="#22902e"/>
<rect x="104.37" y="130.39" width="1.5" height="1.5" fill="#22902e"/>
<rect x="105.11" y="129.94" width="1.5" height="1.5" fill="#22902e"/>
<rect x="144.01" y="131.49" width="1.5" height="1.5" fill="#22902e"/>
<rect x="152.35" y="128.94" width="1.5" height="1.5" fill="#22902e"/>
<rect x="145.55" y="130.07" width="1.5" height="1.5" fill="#22902e"/>
<rect x="146.29" y="130.81" width="1.5" height="1.5" fill="#22902e"/>
<rect x="112.89" y="132.11" width="1.5" height="1.5" fill="#22902e"/>
<rect x="109.20" y="131.12" width="1.5" height="1.5" fill="#22902e"/>
<rect x="110.27" y="132.14" width="1.5" height="1.5" fill="#22902e"/>
<rect x="145.68" y="131.34" width="1.5" height="1.5" fill="#22902e"/>
<rect x="104.27" y="129.62" width="1.5" height="1.5" fill="#22902e"/>
<rect x="154.26" y="126.80" width="1.5" height="1.5" fill="#22902e"/>
<rect x="112.93" y="132.54" width="1.5" height="1.5" fill="#22902e"/>
<rect x="114.66" y="131.31" width="1.5" height="1.5" fill="#22902e"/>
<rect x="117.43" y="133.00" width="1.5" height="1.5" fill="#22902e"/>
<rect x="152.83" y="125.25" width="1.5" height="1.5" fill="#22902e"/>
<rect x="152.37" y="125.94" width="1.5" height="1.5" fill="#22902e"/>
<rect x="116.69" y="133.10" width="1.5" height="1.5" fill="#22902e"/>
<rect x="138.24" y="130.96" width="1.5" height="1.5" fill="#22902e"/>
<rect x="118.46" y="133.63" width="1.5" height="1.5" fill="#22902e"/>
<rect x="144.82" y="131.01" width="1.5" height="1.5" fill="#22902e"/>
<rect x="157.05" y="123.36" width="1.5" height="1.5" fill="#22902e"/>
<rect x="110.10" y="131.95" width="1.5" height="1.5" fill="#22902e"/>
<rect x="148.86" y="129.46" width="1.5" height="1.5" fill="#22902e"/>
<rect x="153.32" y="128.41" width="1.5" height="1.5" fill="#22902e"/>
<rect x="107.15" y="130.49" width="1.5" height="1.5" fill="#22902e"/>
<rect x="119.45" y="133.75" width="1.5" height="1.5" fill="#22902e"/>
<rect x="108.86" y="131.76" width="1.5" height="1.5" fill="#22902e"/>
<rect x="147.65" y="129.58" width="1.5" height="1.5" fill="#22902e"/>
<rect x="149.40" y="129.03" width="1.5" height="1.5" fill="#22902e"/>
<rect x="153.22" y="127.13" width="1.5" height="1.5" fill="#22902e"/>
<rect x="151.08" y="129.45" width="1.5" height="1.5" fill="#22902e"/>
<rect x="142.27" y="131.99" width="1.5" height="1.5" fill="#22902e"/>
<rect x="114.76" y="131.76" width="1.5" height="1.5" fill="#22902e"/>
<rect x="151.13" y="127.71" width="1.5" height="1.5" fill="#22902e"/>
<rect x="156.43" y="126.66" width="1.5" height="1.5" fill="#22902e"/>
<rect x="112.46" y="131.91" width="1.5" height="1.5" fill="#22902e"/>
<rect x="141.62" y="132.05" width="1.5" height="1.5" fill="#22902e"/>
<rect x="109.08" y="131.31" width="1.5" height="1.5" fill="#22902e"/>
<rect x="149.27" y="129.69" width="1.5" height="1.5" fill="#22902e"/>
<rect x="107.49" y="129.35" width="1.5" height="1.5" fill="#22902e"/>
<rect x="137.68" y="132.62" width="1.5" height="1.5" fill="#22902e"/>
<rect x="132.55" y="132.24" width="1.5" height="1.5" fill="#22902e"/>
<rect x="136.56" y="131.74" width="1.5" height="1.5" fill="#22902e"/>
<rect x="143.64" y="131.72" width="1.5" height="1.5" fill="#22902e"/>
<rect x="140.24" y="132.75" width="1.5" height="1.5" fill="#22902e"/>
<rect x="141.85" y="131.92" width="1.5" height="1.5" fill="#22902e"/>
<rect x="122.48" y="132.11" width="1.5" height="1.5" fill="#22902e"/>
<rect x="119.35" y="132.77" width="1.5" height="1.5" fill="#22902e"/>
<rect x="139.00" y="132.21" width="1.5" height="1.5" fill="#22902e"/>
<rect x="119.59" y="133.72" width="1.5" height="1.5" fill="#22902e"/>
<rect x="118.69" y="133.26" width="1.5" height="1.5" fill="#22902e"/>
<rect x="118.40" y="133.63" width="1.5" height="1.5" fill="#22902e"/>
<rect x="115.49" y="132.78" width="1.5" height="1.5" fill="#22902e"/>
<rect x="114.66" y="132.90" width="1.5" height="1.5" fill="#22902e"/>
<rect x="117.41" y="132.55" width="1.5" height="1.5" fill="#22902e"/>
<rect x="105.99" y="128.54" width="1.5" height="1.5" fill="#22902e"/>
<rect x="155.97" y="126.45" width="1.5" height="1.5" fill="#22902e"/>
<rect x="140.07" y="131.35" width="1.5" height="1.5" fill="#22902e"/>
<rect x="113.95" y="130.96" width="1.5" height="1.5" fill="#22902e"/>
<rect x="115.78" y="132.62" width="1.5" height="1.5" fill="#22902e"/>
<rect x="151.02" y="126.10" width="1.5" height="1.5" fill="#22902e"/>
<rect x="145.13" y="130.32" width="1.5" height="1.5" fill="#22902e"/>
<rect x="142.74" y="132.03" width="1.5" height="1.5" fill="#22902e"/>
<rect x="143.56" y="129.58" width="1.5" height="1.5" fill="#22902e"/>
<rect x="152.39" y="125.06" width="1.5" height="1.5" fill="#22902e"/>
<rect x="139.75" y="130.73" width="1.5" height="1.5" fill="#22902e"/>
<rect x="114.31" y="129.33" width="1.5" height="1.5" fill="#22902e"/>
<rect x="119.13" y="131.41" width="1.5" height="1.5" fill="#22902e"/>
<rect x="152.17" y="122.47" width="1.5" height="1.5" fill="#22902e"/>
<rect x="112.22" y="127.17" width="1.5" height="1.5" fill="#22902e"/>
<rect x="106.91" y="127.29" width="1.5" height="1.5" fill="#22902e"/>
<rect x="153.74" y="122.72" width="1.5" height="1.5" fill="#22902e"/>
<rect x="155.22" y="123.48" width="1.5" height="1.5" fill="#22902e"/>
<rect x="149.27" y="127.12" width="1.5" height="1.5" fill="#22902e"/>
<rect x="147.55" y="128.03" width="1.5" height="1.5" fill="#22902e"/>
<rect x="149.10" y="126.45" width="1.5" height="1.5" fill="#22902e"/>
<rect x="111.49" y="129.50" width="1.5" height="1.5" fill="#22902e"/>
<rect x="147.16" y="125.40" width="1.5" height="1.5" fill="#22902e"/>
<rect x="145.50" y="128.34" width="1.5" height="1.5" fill="#22902e"/>
<rect x="155.18" y="124.59" width="1.5" height="1.5" fill="#22902e"/>
<rect x="151.75" y="127.29" width="1.5" height="1.5" fill="#22902e"/>
<rect x="154.84" y="121.77" width="1.5" height="1.5" fill="#22902e"/>
<rect x="138.35" y="128.56" width="1.5" height="1.5" fill="#22902e"/>
<rect x="151.84" y="122.47" width="1.5" height="1.5" fill="#22902e"/>
<rect x="144.25" y="130.18" width="1.5" height="1.5" fill="#22902e"/>
<rect x="113.41" y="129.47" width="1.5" height="1.5" fill="#22902e"/>
<rect x="108.80" y="127.54" width="1.5" height="1.5" fill="#22902e"/>
<rect x="142.96" y="126.57" width="1.5" height="1.5" fill="#22902e"/>
<rect x="137.05" y="130.88" width="1.5" height="1.5" fill="#22902e"/>
<rect x="142.08" y="128.31" width="1.5" height="1.5" fill="#22902e"/>
<rect x="110.51" y="126.98" width="1.5" height="1.5" fill="#22902e"/>
<rect x="148.94" y="128.32" width="1.5" height="1.5" fill="#22902e"/>
<rect x="146.76" y="128.78" width="1.5" height="1.5" fill="#22902e"/>
<rect x="146.35" y="125.15" width="1.5" height="1.5" fill="#22902e"/>
<rect x="144.06" y="130.41" width="1.5" height="1.5" fill="#22902e"/>
<rect x="116.88" y="131.98" width="1.5" height="1.5" fill="#22902e"/>
<rect x="108.64" y="128.07" width="1.5" height="1.5" fill="#22902e"/>
<rect x="147.90" y="125.45" width="1.5" height="1.5" fill="#22902e"/>
<rect x="106.42" y="125.97" width="1.5" height="1.5" fill="#22902e"/>
<rect x="149.84" y="127.07" width="1.5" height="1.5" fill="#22902e"/>
<rect x="109.98" y="130.66" width="1.5" height="1.5" fill="#22902e"/>
<rect x="147.31" y="128.13" width="1.5" height="1.5" fill="#22902e"/>
<rect x="143.58" y="130.87" width="1.5" height="1.5" fill="#22902e"/>
<rect x="147.32" y="124.90" width="1.5" height="1.5" fill="#22902e"/>
<rect x="148.03" y="128.39" width="1.5" height="1.5" fill="#22902e"/>
<rect x="119.28" y="129.27" width="1.5" height="1.5" fill="#22902e"/>
<rect x="153.33" y="122.69" width="1.5" height="1.5" fill="#22902e"/>
<rect x="147.70" y="124.73" width="1.5" height="1.5" fill="#22902e"/>
<rect x="154.29" y="125.66" width="1.5" height="1.5" fill="#22902e"/>
<rect x="149.90" y="127.79" width="1.5" height="1.5" fill="#22902e"/>
<rect x="152.88" y="124.91" width="1.5" height="1.5" fill="#22902e"/>
<rect x="140.87" y="131.03" width="1.5" height="1.5" fill="#22902e"/>
<rect x="139.79" y="127.79" width="1.5" height="1.5" fill="#22902e"/>
<rect x="114.11" y="131.47" width="1.5" height="1.5" fill="#22902e"/>
<rect x="143.58" y="129.18" width="1.5" height="1.5" fill="#22902e"/>
<rect x="107.98" y="126.21" width="1.5" height="1.5" fill="#22902e"/>
<rect x="140.90" y="130.95" width="1.5" height="1.5" fill="#22902e"/>
<rect x="109.57" y="130.90" width="1.5" height="1.5" fill="#22902e"/>
<rect x="142.74" y="130.62" width="1.5" height="1.5" fill="#22902e"/>
<rect x="138.01" y="131.27" width="1.5" height="1.5" fill="#22902e"/>
<rect x="138.68" y="130.39" width="1.5" height="1.5" fill="#22902e"/>
<rect x="151.54" y="127.44" width="1.5" height="1.5" fill="#22902e"/>
<rect x="149.98" y="126.89" width="1.5" height="1.5" fill="#22902e"/>
<rect x="80.95" y="110.85" width="1.5" height="1.5" fill="#22902e"/>
<rect x="90.85" y="119.55" width="1.5" height="1.5" fill="#22902e"/>
<rect x="166.45" y="77.35" width="1.5" height="1.5" fill="#22902e"/>
<rect x="163.95" y="85.05" width="1.5" height="1.5" fill="#22902e"/>
<rect x="166.45" y="89.25" width="1.5" height="1.5" fill="#22902e"/>
<rect x="159.35" y="94.55" width="1.5" height="1.5" fill="#22902e"/>
<rect x="160.35" y="97.85" width="1.5" height="1.5" fill="#22902e"/>
<rect x="164.45" y="102.25" width="1.5" height="1.5" fill="#22902e"/>
<rect x="168.55" y="108.85" width="1.5" height="1.5" fill="#22902e"/>
<rect x="171.75" y="113.75" width="1.5" height="1.5" fill="#22902e"/>
<rect x="159.15" y="108.35" width="1.5" height="1.5" fill="#22902e"/>
<rect x="156.25" y="110.65" width="1.5" height="1.5" fill="#22902e"/>
<rect x="155.45" y="113.55" width="1.5" height="1.5" fill="#22902e"/>
<rect x="160.85" y="114.25" width="1.5" height="1.5" fill="#22902e"/>
<rect x="163.95" y="112.85" width="1.5" height="1.5" fill="#22902e"/>
<rect x="151.05" y="116.75" width="1.5" height="1.5" fill="#22902e"/>
<rect x="154.75" y="118.25" width="1.5" height="1.5" fill="#22902e"/>
<rect x="158.35" y="118.25" width="1.5" height="1.5" fill="#22902e"/>
<rect x="144.55" y="120.75" width="1.5" height="1.5" fill="#22902e"/>
<rect x="152.55" y="121.15" width="1.5" height="1.5" fill="#22902e"/>
<rect x="156.95" y="121.55" width="1.5" height="1.5" fill="#22902e"/>
<rect x="159.35" y="119.35" width="1.5" height="1.5" fill="#22902e"/>
<rect x="162.75" y="122.85" width="1.5" height="1.5" fill="#22902e"/>
<rect x="149.65" y="123.35" width="1.5" height="1.5" fill="#22902e"/>
<rect x="153.25" y="123.35" width="1.5" height="1.5" fill="#22902e"/>
<rect x="154.75" y="125.05" width="1.5" height="1.5" fill="#22902e"/>
<rect x="159.15" y="126.25" width="1.5" height="1.5" fill="#22902e"/>
<rect x="146.75" y="124.75" width="1.5" height="1.5" fill="#22902e"/>
<rect x="143.85" y="123.35" width="1.5" height="1.5" fill="#22902e"/>
<rect x="101.25" y="121.55" width="1.5" height="1.5" fill="#22902e"/>
<rect x="105.95" y="122.15" width="1.5" height="1.5" fill="#22902e"/>
<rect x="102.55" y="124.85" width="1.5" height="1.5" fill="#22902e"/>
<rect x="108.05" y="124.85" width="1.5" height="1.5" fill="#22902e"/>
<rect x="110.85" y="125.45" width="1.5" height="1.5" fill="#22902e"/>
<rect x="100.15" y="127.55" width="1.5" height="1.5" fill="#22902e"/>
<rect x="103.75" y="126.65" width="1.5" height="1.5" fill="#22902e"/>
<rect x="39.70" y="33.20" width="1.8" height="1.8" fill="#c41e2e"/>
<rect x="210.30" y="35.00" width="1.8" height="1.8" fill="#c41e2e"/>
<rect x="181.50" y="62.10" width="1.8" height="1.8" fill="#c41e2e"/>
<rect x="198.20" y="76.40" width="1.8" height="1.8" fill="#c41e2e"/>
<rect x="180.50" y="92.30" width="1.8" height="1.8" fill="#c41e2e"/>
<rect x="175.00" y="97.50" width="1.8" height="1.8" fill="#c41e2e"/>
<rect x="178.10" y="99.10" width="1.8" height="1.8" fill="#c41e2e"/>
<rect x="69.30" y="93.30" width="1.8" height="1.8" fill="#c41e2e"/>
<rect x="77.90" y="90.50" width="1.8" height="1.8" fill="#c41e2e"/>
<rect x="76.40" y="103.60" width="1.8" height="1.8" fill="#c41e2e"/>
<line x1="288.20" y1="23.20" x2="288.20" y2="129.60" stroke="#444" stroke-width="1.0" />
<line x1="288.20" y1="129.60" x2="359.90" y2="129.60" stroke="#444" stroke-width="1.0" />
<line x1="284.40" y1="23.50" x2="288.20" y2="23.50" stroke="#444" stroke-width="1.0" />
<text x="282.20" y="26.10" font-size="8.3" text-anchor="end" fill="#222" stroke="#222" stroke-width="0.18">1.5</text>
<line x1="284.40" y1="53.80" x2="288.20" y2="53.80" stroke="#444" stroke-width="1.0" />
<text x="282.20" y="56.40" font-size="8.3" text-anchor="end" fill="#222" stroke="#222" stroke-width="0.18">1.0</text>
<line x1="284.40" y1="84.10" x2="288.20" y2="84.10" stroke="#444" stroke-width="1.0" />
<text x="282.20" y="86.70" font-size="8.3" text-anchor="end" fill="#222" stroke="#222" stroke-width="0.18">0.5</text>
<line x1="284.40" y1="114.40" x2="288.20" y2="114.40" stroke="#444" stroke-width="1.0" />
<text x="282.20" y="117.00" font-size="8.3" text-anchor="end" fill="#222" stroke="#222" stroke-width="0.18">0.0</text>
<line x1="308.50" y1="129.60" x2="308.50" y2="133.50" stroke="#444" stroke-width="1.0" />
<line x1="339.60" y1="129.60" x2="339.60" y2="133.50" stroke="#444" stroke-width="1.0" />
<text transform="translate(265.95 74.90) rotate(-90)" font-size="7.4" text-anchor="middle" fill="#222" stroke="#222" stroke-width="0.18">relative mRNA level <tspan font-style="italic">fat-5</tspan></text>
<text x="310.40" y="142.30" font-size="9.17" text-anchor="end" fill="#222" transform="rotate(-45 310.40 142.30)" stroke="#222" stroke-width="0.18">wild-type</text>
<text x="341.20" y="143.10" font-size="8.19" text-anchor="end" fill="#222" font-style="italic" transform="rotate(-45 341.20 143.10)" stroke="#222" stroke-width="0.18">vhl-1</text>
<polyline points="312.40,27.40 312.40,25.00 343.30,25.00 343.30,27.40" stroke="#444" stroke-width="1.0" fill="none"/>
<text x="328.40" y="24.88" font-size="9.0" font-weight="bold" text-anchor="middle" letter-spacing="1.1" fill="#111">***</text>
<circle cx="300.90" cy="53.50" r="2.6" stroke="#333" stroke-width="0.9" fill="none"/>
<circle cx="305.80" cy="53.50" r="2.6" stroke="#333" stroke-width="0.9" fill="none"/>
<circle cx="310.80" cy="53.50" r="2.6" stroke="#333" stroke-width="0.9" fill="none"/>
<circle cx="316.00" cy="53.50" r="2.6" stroke="#333" stroke-width="0.9" fill="none"/>
<line x1="298.80" y1="53.50" x2="318.20" y2="53.50" stroke="#333" stroke-width="1.0" />
<circle cx="331.20" cy="113.70" r="2.6" stroke="#888" stroke-width="0.8" fill="none"/>
<circle cx="336.30" cy="112.20" r="2.6" stroke="#888" stroke-width="0.8" fill="none"/>
<circle cx="341.60" cy="112.20" r="2.6" stroke="#888" stroke-width="0.8" fill="none"/>
<circle cx="346.80" cy="112.20" r="2.6" stroke="#888" stroke-width="0.8" fill="none"/>
<line x1="333.00" y1="112.40" x2="344.50" y2="112.40" stroke="#222" stroke-width="1.3" />
<line x1="415.60" y1="23.00" x2="415.60" y2="129.80" stroke="#444" stroke-width="1.0" />
<line x1="415.60" y1="129.80" x2="487.40" y2="129.80" stroke="#444" stroke-width="1.0" />
<line x1="411.90" y1="23.40" x2="415.60" y2="23.40" stroke="#444" stroke-width="1.0" />
<text x="409.60" y="26.00" font-size="8.3" text-anchor="end" fill="#222" stroke="#222" stroke-width="0.18">1.5</text>
<line x1="411.90" y1="58.80" x2="415.60" y2="58.80" stroke="#444" stroke-width="1.0" />
<text x="409.60" y="61.40" font-size="8.3" text-anchor="end" fill="#222" stroke="#222" stroke-width="0.18">1.0</text>
<line x1="411.90" y1="94.20" x2="415.60" y2="94.20" stroke="#444" stroke-width="1.0" />
<text x="409.60" y="96.80" font-size="8.3" text-anchor="end" fill="#222" stroke="#222" stroke-width="0.18">0.5</text>
<line x1="411.90" y1="129.60" x2="415.60" y2="129.60" stroke="#444" stroke-width="1.0" />
<text x="409.60" y="132.20" font-size="8.3" text-anchor="end" fill="#222" stroke="#222" stroke-width="0.18">0.0</text>
<line x1="435.80" y1="129.80" x2="435.80" y2="133.70" stroke="#444" stroke-width="1.0" />
<line x1="466.50" y1="129.80" x2="466.50" y2="133.70" stroke="#444" stroke-width="1.0" />
<text transform="translate(394.05 74.95) rotate(-90)" font-size="7.4" text-anchor="middle" fill="#222" stroke="#222" stroke-width="0.18">relative mRNA level <tspan font-style="italic">fat-7</tspan></text>
<text x="439.40" y="141.80" font-size="9.18" text-anchor="end" fill="#222" transform="rotate(-45 439.40 141.80)" stroke="#222" stroke-width="0.18">wild-type</text>
<text x="470.30" y="142.80" font-size="8.29" text-anchor="end" fill="#222" font-style="italic" transform="rotate(-45 470.30 142.80)" stroke="#222" stroke-width="0.18">vhl-1</text>
<polyline points="438.20,28.50 438.20,26.00 468.50,26.00 468.50,28.50" stroke="#444" stroke-width="1.0" fill="none"/>
<text x="454.15" y="26.18" font-size="9.0" font-weight="bold" text-anchor="middle" letter-spacing="1.1" fill="#111">***</text>
<circle cx="428.20" cy="58.40" r="2.6" stroke="#333" stroke-width="0.9" fill="none"/>
<circle cx="433.40" cy="58.40" r="2.6" stroke="#333" stroke-width="0.9" fill="none"/>
<circle cx="438.50" cy="58.40" r="2.6" stroke="#333" stroke-width="0.9" fill="none"/>
<circle cx="443.40" cy="58.40" r="2.6" stroke="#333" stroke-width="0.9" fill="none"/>
<line x1="426.00" y1="58.40" x2="445.60" y2="58.40" stroke="#333" stroke-width="1.0" />
<circle cx="458.90" cy="107.70" r="2.5" stroke="#888" stroke-width="0.8" fill="none"/>
<circle cx="473.80" cy="106.90" r="2.5" stroke="#888" stroke-width="0.8" fill="none"/>
<circle cx="458.90" cy="121.30" r="2.5" stroke="#888" stroke-width="0.8" fill="none"/>
<circle cx="473.80" cy="118.70" r="2.5" stroke="#888" stroke-width="0.8" fill="none"/>
<line x1="456.50" y1="113.70" x2="476.40" y2="113.70" stroke="#333" stroke-width="1.0" />
<line x1="461.80" y1="110.20" x2="471.50" y2="110.20" stroke="#333" stroke-width="1.0" />
<line x1="461.80" y1="117.30" x2="471.50" y2="117.30" stroke="#333" stroke-width="1.0" />
<line x1="466.50" y1="110.20" x2="466.50" y2="117.30" stroke="#333" stroke-width="1.0" />
<defs><filter id="bl1" x="-20%" y="-50%" width="140%" height="200%"><feGaussianBlur stdDeviation="0.75"/></filter><filter id="bl2" x="-50%" y="-50%" width="200%" height="200%"><feGaussianBlur stdDeviation="0.8"/></filter><filter id="bl3" x="-20%" y="-50%" width="140%" height="200%"><feGaussianBlur stdDeviation="1.2"/></filter><linearGradient id="gc1" gradientUnits="userSpaceOnUse" x1="90" y1="0" x2="158" y2="0"><stop offset="0" stop-color="#22a034"/><stop offset="0.12" stop-color="#146a22"/><stop offset="0.3" stop-color="#1c8c2e"/><stop offset="0.48" stop-color="#2cb83e"/><stop offset="0.6" stop-color="#1f9632"/><stop offset="0.75" stop-color="#188028"/><stop offset="0.88" stop-color="#2cb83c"/><stop offset="1" stop-color="#7ad844"/></linearGradient><linearGradient id="ge1" gradientUnits="userSpaceOnUse" x1="192" y1="0" x2="250" y2="0"><stop offset="0" stop-color="#1c8a2c"/><stop offset="0.3" stop-color="#125e20"/><stop offset="0.7" stop-color="#11581e"/><stop offset="1" stop-color="#1a8a2c"/></linearGradient><linearGradient id="ge3" gradientUnits="userSpaceOnUse" x1="190" y1="0" x2="254" y2="0"><stop offset="0" stop-color="#3cc040"/><stop offset="0.4" stop-color="#2cb03c"/><stop offset="0.62" stop-color="#1f9432"/><stop offset="0.8" stop-color="#136422"/><stop offset="0.92" stop-color="#1a7a28"/><stop offset="1" stop-color="#3cc040"/></linearGradient><linearGradient id="ge4" gradientUnits="userSpaceOnUse" x1="188" y1="0" x2="256" y2="0"><stop offset="0" stop-color="#38bc40"/><stop offset="0.4" stop-color="#27a438"/><stop offset="0.62" stop-color="#1a8a2e"/><stop offset="0.78" stop-color="#126022"/><stop offset="1" stop-color="#0f4e1c"/></linearGradient><filter id="tx" x="-10%" y="-80%" width="120%" height="260%" color-interpolation-filters="sRGB"><feTurbulence type="fractalNoise" baseFrequency="0.22" numOctaves="2" seed="5" result="n"/><feColorMatrix in="n" type="matrix" values="0 0 0 0 0  0 0 0 0 0  0 0 0 0 0  1.6 0 0 0 -0.1" result="na"/><feComposite in="SourceGraphic" in2="na" operator="in" result="m"/><feGaussianBlur in="m" stdDeviation="0.8"/></filter></defs>
<rect x="69.00" y="219.70" width="105.00" height="53.00" fill="#020202" stroke="none" stroke-width="0"/>
<path d="M75,254.2 L89,250.2" stroke="#04120a" stroke-width="2.0" fill="none" stroke-linecap="round" stroke-linejoin="round" opacity="1.0" filter="url(#bl1)"/>
<path d="M90.7,249.4 C98,246.6 106,243.6 114,240.6 C118,239.1 121,237.8 124.5,237.6 C127,237.8 130,239.2 134,241.4 C142,245.8 149,249.2 156.3,252.4" stroke="url(#gc1)" stroke-width="4.2" fill="none" stroke-linecap="round" stroke-linejoin="round" opacity="1" filter="url(#tx)"/>
<path d="M114,239.2 C119,237.6 124,237.2 129,238.3" stroke="#2aa83a" stroke-width="1.2" fill="none" stroke-linecap="round" stroke-linejoin="round" opacity="0.5" filter="url(#bl1)"/>
<path d="M143,246.3 C147,248.4 150,249.8 153,251" stroke="#3cc040" stroke-width="1.4" fill="none" stroke-linecap="round" stroke-linejoin="round" opacity="0.6" filter="url(#bl1)"/>
<rect x="89.6" y="246.9" width="2.6" height="5.0" fill="#2cc440" filter="url(#bl1)"/>
<ellipse cx="156.0" cy="252.4" rx="2.0" ry="1.7" fill="#9ee050" opacity="1.0" filter="url(#bl2)"/>
<text x="73.90" y="229.00" font-size="7.3" text-anchor="start" fill="#f2f2f2">wild-type</text>
<rect x="69.70" y="277.90" width="104.80" height="52.90" fill="#020202" stroke="none" stroke-width="0"/>
<path d="M94,307.6 C106,299 118,292 130.7,290.5 C142,290.5 151,296 157.4,302.5" stroke="#041407" stroke-width="2.6" fill="none" stroke-linecap="round" stroke-linejoin="round" opacity="1" filter="url(#bl3)"/>
<ellipse cx="94.5" cy="307.3" rx="1.5" ry="1.5" fill="#082410" opacity="1.0" filter="url(#bl2)"/>
<ellipse cx="157.4" cy="302.8" rx="1.5" ry="2.0" fill="#2ad448" opacity="1.0" filter="url(#bl2)"/>
<text x="73.60" y="286.30" font-size="7.3" text-anchor="start" fill="#f2f2f2" font-style="italic">vhl-1</text>
<line x1="153.90" y1="327.00" x2="171.00" y2="327.00" stroke="#d0d0d0" stroke-width="1.3" />
<rect x="168.90" y="398.60" width="104.60" height="23.00" fill="#020202" stroke="none" stroke-width="0"/>
<rect x="168.90" y="433.10" width="104.60" height="22.80" fill="#020202" stroke="none" stroke-width="0"/>
<rect x="168.90" y="466.90" width="104.60" height="23.40" fill="#020202" stroke="none" stroke-width="0"/>
<rect x="168.90" y="500.90" width="104.60" height="23.70" fill="#020202" stroke="none" stroke-width="0"/>
<text x="168.50" y="396.30" font-size="8.0" textLength="25.6" lengthAdjust="spacingAndGlyphs" fill="#222" stroke="#222" stroke-width="0.2">wild-type</text>
<text x="168.80" y="431.10" font-size="8.0" textLength="13.8" lengthAdjust="spacingAndGlyphs" fill="#222" stroke="#222" stroke-width="0.2" font-style="italic">vhl-1</text>
<text x="168.80" y="465.30" font-size="8.0" textLength="12.3" lengthAdjust="spacingAndGlyphs" fill="#222" stroke="#222" stroke-width="0.2" font-style="italic">hif-1</text>
<text x="168.80" y="499.60" font-size="8.0" textLength="27.6" lengthAdjust="spacingAndGlyphs" fill="#222" stroke="#222" stroke-width="0.2" font-style="italic">hif-1;vhl-1</text>
<path d="M192.5,412.4 C200,412.8 206,412.6 212,410.5 C218,408 224,406.4 232,406.2 C238,406.2 242,407 245,409 L250,412.3" stroke="url(#ge1)" stroke-width="3.8" fill="none" stroke-linecap="round" stroke-linejoin="round" opacity="1" filter="url(#tx)"/>
<rect x="190.6" y="410.0" width="3.6" height="4.6" fill="#2ad444" filter="url(#bl1)"/>
<ellipse cx="249.9" cy="412.4" rx="1.5" ry="1.6" fill="#2ccc44" opacity="1.0" filter="url(#bl2)"/>
<path d="M198,446.5 C215,446 235,445.5 252,444.6" stroke="#061809" stroke-width="1.8" fill="none" stroke-linecap="round" stroke-linejoin="round" opacity="1" filter="url(#bl3)"/>
<ellipse cx="254.9" cy="444.2" rx="1.4" ry="1.8" fill="#24b03e" opacity="1.0" filter="url(#bl2)"/>
<path d="M190,479.8 C200,478.8 210,477.6 222,477 C234,476.6 244,476.4 253.8,476" stroke="url(#ge3)" stroke-width="4.0" fill="none" stroke-linecap="round" stroke-linejoin="round" opacity="1" filter="url(#tx)"/>
<rect x="187.6" y="477.6" width="4.4" height="4.6" fill="#7ae450" filter="url(#bl1)"/>
<ellipse cx="253.8" cy="476.0" rx="1.6" ry="1.4" fill="#7ee058" opacity="1.0" filter="url(#bl2)"/>
<path d="M188.3,519.4 C198,519.3 210,519.2 220,520 C226,521 230,521.5 234,520.6 C242,518 250,514 256.2,510.6" stroke="url(#ge4)" stroke-width="4.0" fill="none" stroke-linecap="round" stroke-linejoin="round" opacity="1" filter="url(#tx)"/>
<rect x="186.4" y="517.2" width="4.4" height="4.4" fill="#6ee050" filter="url(#bl1)"/>
<line x1="257.10" y1="521.10" x2="270.80" y2="521.10" stroke="#d0d0d0" stroke-width="1.3" />
<line x1="220.80" y1="209.30" x2="220.80" y2="315.20" stroke="#444" stroke-width="1.0" />
<line x1="217.50" y1="315.20" x2="291.50" y2="315.20" stroke="#444" stroke-width="1.0" />
<line x1="217.20" y1="209.20" x2="220.80" y2="209.20" stroke="#444" stroke-width="1.0" />
<text x="215.60" y="211.80" font-size="8.3" text-anchor="end" fill="#222" stroke="#222" stroke-width="0.18">2.0</text>
<line x1="217.20" y1="235.70" x2="220.80" y2="235.70" stroke="#444" stroke-width="1.0" />
<text x="215.60" y="238.30" font-size="8.3" text-anchor="end" fill="#222" stroke="#222" stroke-width="0.18">1.5</text>
<line x1="217.20" y1="262.20" x2="220.80" y2="262.20" stroke="#444" stroke-width="1.0" />
<text x="215.60" y="264.80" font-size="8.3" text-anchor="end" fill="#222" stroke="#222" stroke-width="0.18">1.0</text>
<line x1="217.20" y1="288.70" x2="220.80" y2="288.70" stroke="#444" stroke-width="1.0" />
<text x="215.60" y="291.30" font-size="8.3" text-anchor="end" fill="#222" stroke="#222" stroke-width="0.18">0.5</text>
<line x1="217.20" y1="315.20" x2="220.80" y2="315.20" stroke="#444" stroke-width="1.0" />
<text x="215.60" y="317.80" font-size="8.3" text-anchor="end" fill="#222" stroke="#222" stroke-width="0.18">0</text>
<line x1="241.00" y1="315.20" x2="241.00" y2="319.30" stroke="#444" stroke-width="1.0" />
<line x1="271.50" y1="315.20" x2="271.50" y2="319.30" stroke="#444" stroke-width="1.0" />
<text transform="translate(197.55 263.75) rotate(-90)" font-size="7.4" text-anchor="middle" fill="#222" stroke="#222" stroke-width="0.18">relative FAT-7::GFP intensity</text>
<text x="244.30" y="326.00" font-size="7.93" text-anchor="end" fill="#222" transform="rotate(-45 244.30 326.00)" stroke="#222" stroke-width="0.18">wild-type</text>
<text x="272.50" y="327.00" font-size="7.09" text-anchor="end" fill="#222" transform="rotate(-45 272.50 327.00)" stroke="#222" stroke-width="0.18">vhl-1</text>
<line x1="241.20" y1="239.20" x2="241.20" y2="255.50" stroke="#3a3a3a" stroke-width="0.9" />
<line x1="241.20" y1="267.50" x2="241.20" y2="284.80" stroke="#3a3a3a" stroke-width="0.9" />
<line x1="236.20" y1="239.20" x2="246.20" y2="239.20" stroke="#3a3a3a" stroke-width="0.9" />
<line x1="236.20" y1="284.80" x2="246.20" y2="284.80" stroke="#3a3a3a" stroke-width="0.9" />
<rect x="231.00" y="255.50" width="20.40" height="12.00" fill="#b3b3b3" stroke="#3a3a3a" stroke-width="0.9"/>
<line x1="231.00" y1="263.40" x2="251.40" y2="263.40" stroke="#3a3a3a" stroke-width="0.9" />
<circle cx="241.20" cy="229.50" r="1.8" stroke="#333" stroke-width="0.9" fill="none"/>
<line x1="271.40" y1="295.30" x2="271.40" y2="301.00" stroke="#3a3a3a" stroke-width="0.9" />
<line x1="271.40" y1="304.60" x2="271.40" y2="310.20" stroke="#3a3a3a" stroke-width="0.9" />
<line x1="266.10" y1="295.30" x2="276.70" y2="295.30" stroke="#3a3a3a" stroke-width="0.9" />
<line x1="266.10" y1="310.20" x2="276.70" y2="310.20" stroke="#3a3a3a" stroke-width="0.9" />
<rect x="261.20" y="301.00" width="20.40" height="3.60" fill="#b3b3b3" stroke="#3a3a3a" stroke-width="0.9"/>
<line x1="261.20" y1="302.60" x2="281.60" y2="302.60" stroke="#3a3a3a" stroke-width="0.9" />
<circle cx="271.50" cy="294.60" r="1.8" stroke="#333" stroke-width="0.9" fill="none"/>
<circle cx="271.50" cy="310.80" r="1.8" stroke="#333" stroke-width="0.9" fill="none"/>
<polyline points="241.10,213.20 241.10,210.40 272.00,210.40 272.00,213.20" stroke="#444" stroke-width="1.0" fill="none"/>
<text x="257.30" y="209.34" font-size="10.5" font-weight="bold" text-anchor="middle" letter-spacing="1.0" fill="#111">****</text>
<line x1="376.80" y1="209.30" x2="376.80" y2="315.20" stroke="#444" stroke-width="1.0" />
<line x1="373.50" y1="315.20" x2="447.70" y2="315.20" stroke="#444" stroke-width="1.0" />
<line x1="373.20" y1="209.20" x2="376.80" y2="209.20" stroke="#444" stroke-width="1.0" />
<text x="371.60" y="211.80" font-size="8.3" text-anchor="end" fill="#222" stroke="#222" stroke-width="0.18">2.0</text>
<line x1="373.20" y1="235.70" x2="376.80" y2="235.70" stroke="#444" stroke-width="1.0" />
<text x="371.60" y="238.30" font-size="8.3" text-anchor="end" fill="#222" stroke="#222" stroke-width="0.18">1.5</text>
<line x1="373.20" y1="262.20" x2="376.80" y2="262.20" stroke="#444" stroke-width="1.0" />
<text x="371.60" y="264.80" font-size="8.3" text-anchor="end" fill="#222" stroke="#222" stroke-width="0.18">1.0</text>
<line x1="373.20" y1="288.70" x2="376.80" y2="288.70" stroke="#444" stroke-width="1.0" />
<text x="371.60" y="291.30" font-size="8.3" text-anchor="end" fill="#222" stroke="#222" stroke-width="0.18">0.5</text>
<line x1="373.20" y1="315.20" x2="376.80" y2="315.20" stroke="#444" stroke-width="1.0" />
<text x="371.60" y="317.80" font-size="8.3" text-anchor="end" fill="#222" stroke="#222" stroke-width="0.18">0</text>
<line x1="396.60" y1="315.20" x2="396.60" y2="319.20" stroke="#444" stroke-width="1.0" />
<line x1="427.10" y1="315.20" x2="427.10" y2="319.20" stroke="#444" stroke-width="1.0" />
<text transform="translate(352.30 264.15) rotate(-90)" font-size="7.4" text-anchor="middle" fill="#222" stroke="#222" stroke-width="0.18">relative FAT-7::GFP intensity</text>
<text x="400.40" y="326.50" font-size="8.02" text-anchor="end" fill="#222" transform="rotate(-45 400.40 326.50)" stroke="#222" stroke-width="0.18">normoxia</text>
<text x="429.40" y="326.90" font-size="7.82" text-anchor="end" fill="#222" transform="rotate(-45 429.40 326.90)" stroke="#222" stroke-width="0.18">hypoxia</text>
<line x1="396.90" y1="225.30" x2="396.90" y2="253.30" stroke="#3a3a3a" stroke-width="0.9" />
<line x1="396.90" y1="272.10" x2="396.90" y2="282.60" stroke="#3a3a3a" stroke-width="0.9" />
<line x1="392.00" y1="225.30" x2="401.80" y2="225.30" stroke="#3a3a3a" stroke-width="0.9" />
<line x1="392.00" y1="282.60" x2="401.80" y2="282.60" stroke="#3a3a3a" stroke-width="0.9" />
<rect x="386.90" y="253.30" width="20.00" height="18.80" fill="#b3b3b3" stroke="#3a3a3a" stroke-width="0.9"/>
<line x1="386.90" y1="262.10" x2="406.90" y2="262.10" stroke="#3a3a3a" stroke-width="0.9" />
<line x1="427.20" y1="264.50" x2="427.20" y2="284.60" stroke="#3a3a3a" stroke-width="0.9" />
<line x1="427.20" y1="298.90" x2="427.20" y2="306.50" stroke="#3a3a3a" stroke-width="0.9" />
<line x1="422.30" y1="264.50" x2="432.10" y2="264.50" stroke="#3a3a3a" stroke-width="0.9" />
<line x1="422.30" y1="306.50" x2="432.10" y2="306.50" stroke="#3a3a3a" stroke-width="0.9" />
<rect x="417.20" y="284.60" width="20.00" height="14.30" fill="#b3b3b3" stroke="#3a3a3a" stroke-width="0.9"/>
<line x1="417.20" y1="292.40" x2="437.20" y2="292.40" stroke="#3a3a3a" stroke-width="0.9" />
<circle cx="427.00" cy="229.60" r="1.8" stroke="#333" stroke-width="0.9" fill="none"/>
<circle cx="427.00" cy="240.90" r="1.8" stroke="#333" stroke-width="0.9" fill="none"/>
<circle cx="427.00" cy="250.90" r="1.8" stroke="#333" stroke-width="0.9" fill="none"/>
<circle cx="427.00" cy="255.20" r="1.8" stroke="#333" stroke-width="0.9" fill="none"/>
<polyline points="397.10,213.20 397.10,209.90 427.40,209.90 427.40,213.20" stroke="#444" stroke-width="1.0" fill="none"/>
<text x="412.70" y="209.14" font-size="10.5" font-weight="bold" text-anchor="middle" letter-spacing="1.0" fill="#111">****</text>
<line x1="78.90" y1="403.80" x2="78.90" y2="509.30" stroke="#444" stroke-width="1.0" />
<line x1="75.50" y1="509.30" x2="149.40" y2="509.30" stroke="#444" stroke-width="1.0" />
<line x1="75.80" y1="403.80" x2="78.90" y2="403.80" stroke="#444" stroke-width="1.0" />
<text x="73.60" y="406.40" font-size="8.3" text-anchor="end" fill="#222" stroke="#222" stroke-width="0.18">8.0</text>
<line x1="75.80" y1="429.80" x2="78.90" y2="429.80" stroke="#444" stroke-width="1.0" />
<text x="73.60" y="432.40" font-size="8.3" text-anchor="end" fill="#222" stroke="#222" stroke-width="0.18">6.0</text>
<line x1="75.80" y1="455.80" x2="78.90" y2="455.80" stroke="#444" stroke-width="1.0" />
<text x="73.60" y="458.40" font-size="8.3" text-anchor="end" fill="#222" stroke="#222" stroke-width="0.18">4.0</text>
<line x1="75.80" y1="481.80" x2="78.90" y2="481.80" stroke="#444" stroke-width="1.0" />
<text x="73.60" y="484.40" font-size="8.3" text-anchor="end" fill="#222" stroke="#222" stroke-width="0.18">2.0</text>
<line x1="75.80" y1="509.30" x2="78.90" y2="509.30" stroke="#444" stroke-width="1.0" />
<text x="73.60" y="511.90" font-size="8.3" text-anchor="end" fill="#222" stroke="#222" stroke-width="0.18">0</text>
<line x1="90.10" y1="509.30" x2="90.10" y2="512.30" stroke="#444" stroke-width="1.0" />
<line x1="106.30" y1="509.30" x2="106.30" y2="512.30" stroke="#444" stroke-width="1.0" />
<line x1="122.00" y1="509.30" x2="122.00" y2="512.30" stroke="#444" stroke-width="1.0" />
<line x1="137.80" y1="509.30" x2="137.80" y2="512.30" stroke="#444" stroke-width="1.0" />
<text transform="translate(53.85 455.50) rotate(-90)" font-size="7.4" text-anchor="middle" fill="#222" stroke="#222" stroke-width="0.18">relative FAT-7::GFP intensity</text>
<text x="91.50" y="520.50" font-size="7.03" text-anchor="end" fill="#222" transform="rotate(-45 91.50 520.50)" stroke="#222" stroke-width="0.18">wild -type</text>
<text x="107.40" y="520.60" font-size="6.39" text-anchor="end" fill="#222" transform="rotate(-45 107.40 520.60)" stroke="#222" stroke-width="0.18">vhl- 1</text>
<text x="123.70" y="521.10" font-size="6.97" text-anchor="end" fill="#222" transform="rotate(-45 123.70 521.10)" stroke="#222" stroke-width="0.18">hif-1</text>
<text x="139.80" y="520.30" font-size="7.47" text-anchor="end" fill="#222" transform="rotate(-45 139.80 520.30)" stroke="#222" stroke-width="0.18">hif-1; vhl-1</text>
<line x1="89.80" y1="485.20" x2="89.80" y2="493.30" stroke="#3a3a3a" stroke-width="0.9" />
<line x1="89.80" y1="499.00" x2="89.80" y2="503.30" stroke="#3a3a3a" stroke-width="0.9" />
<line x1="87.30" y1="485.20" x2="92.30" y2="485.20" stroke="#3a3a3a" stroke-width="0.9" />
<line x1="87.30" y1="503.30" x2="92.30" y2="503.30" stroke="#3a3a3a" stroke-width="0.9" />
<rect x="84.20" y="493.30" width="11.20" height="5.70" fill="#b3b3b3" stroke="#3a3a3a" stroke-width="0.9"/>
<line x1="84.20" y1="495.90" x2="95.40" y2="495.90" stroke="#3a3a3a" stroke-width="0.9" />
<circle cx="89.80" cy="474.90" r="1.7" stroke="#333" stroke-width="0.8" fill="none"/>
<circle cx="89.80" cy="480.50" r="1.7" stroke="#333" stroke-width="0.8" fill="none"/>
<circle cx="89.80" cy="483.40" r="1.7" stroke="#333" stroke-width="0.8" fill="none"/>
<line x1="105.90" y1="501.00" x2="105.90" y2="503.30" stroke="#3a3a3a" stroke-width="0.9" />
<line x1="105.90" y1="505.70" x2="105.90" y2="507.50" stroke="#3a3a3a" stroke-width="0.9" />
<line x1="103.40" y1="501.00" x2="108.40" y2="501.00" stroke="#3a3a3a" stroke-width="0.9" />
<line x1="103.40" y1="507.50" x2="108.40" y2="507.50" stroke="#3a3a3a" stroke-width="0.9" />
<rect x="100.20" y="503.30" width="11.40" height="2.40" fill="#b3b3b3" stroke="#3a3a3a" stroke-width="0.9"/>
<line x1="100.20" y1="504.60" x2="111.60" y2="504.60" stroke="#3a3a3a" stroke-width="0.9" />
<circle cx="102.30" cy="499.80" r="1.7" stroke="#333" stroke-width="0.8" fill="none"/>
<circle cx="109.60" cy="499.80" r="1.7" stroke="#333" stroke-width="0.8" fill="none"/>
<line x1="122.20" y1="460.60" x2="122.20" y2="478.10" stroke="#3a3a3a" stroke-width="0.9" />
<line x1="122.20" y1="491.20" x2="122.20" y2="498.00" stroke="#3a3a3a" stroke-width="0.9" />
<line x1="119.70" y1="460.60" x2="124.70" y2="460.60" stroke="#3a3a3a" stroke-width="0.9" />
<line x1="119.70" y1="498.00" x2="124.70" y2="498.00" stroke="#3a3a3a" stroke-width="0.9" />
<rect x="116.90" y="478.10" width="10.60" height="13.10" fill="#b3b3b3" stroke="#3a3a3a" stroke-width="0.9"/>
<line x1="116.90" y1="485.50" x2="127.50" y2="485.50" stroke="#3a3a3a" stroke-width="0.9" />
<circle cx="122.20" cy="445.00" r="1.7" stroke="#333" stroke-width="0.8" fill="none"/>
<circle cx="122.20" cy="452.10" r="1.7" stroke="#333" stroke-width="0.8" fill="none"/>
<circle cx="118.20" cy="457.80" r="1.7" stroke="#333" stroke-width="0.8" fill="none"/>
<circle cx="126.10" cy="457.80" r="1.7" stroke="#333" stroke-width="0.8" fill="none"/>
<line x1="138.40" y1="437.40" x2="138.40" y2="465.20" stroke="#3a3a3a" stroke-width="0.9" />
<line x1="138.40" y1="483.70" x2="138.40" y2="495.90" stroke="#3a3a3a" stroke-width="0.9" />
<line x1="135.90" y1="437.40" x2="140.90" y2="437.40" stroke="#3a3a3a" stroke-width="0.9" />
<line x1="135.90" y1="495.90" x2="140.90" y2="495.90" stroke="#3a3a3a" stroke-width="0.9" />
<rect x="133.20" y="465.20" width="10.40" height="18.50" fill="#b3b3b3" stroke="#3a3a3a" stroke-width="0.9"/>
<line x1="133.20" y1="475.60" x2="143.60" y2="475.60" stroke="#3a3a3a" stroke-width="0.9" />
<circle cx="138.30" cy="432.70" r="1.7" stroke="#333" stroke-width="0.8" fill="none"/>
<polyline points="91.70,406.40 91.70,403.80 138.30,403.80 138.30,406.40" stroke="#444" stroke-width="1.0" fill="none"/>
<text x="115.40" y="405.45" font-size="10.0" font-weight="bold" text-anchor="middle" letter-spacing="1.0" fill="#111">****</text>
<polyline points="91.70,421.60 91.70,419.20 124.40,419.20 124.40,421.60" stroke="#444" stroke-width="1.0" fill="none"/>
<text x="108.50" y="420.95" font-size="10.0" font-weight="bold" text-anchor="middle" letter-spacing="1.0" fill="#111">****</text>
<polyline points="92.50,438.40 92.50,435.80 109.40,435.80 109.40,438.40" stroke="#444" stroke-width="1.0" fill="none"/>
<text x="101.50" y="437.75" font-size="10.0" font-weight="bold" text-anchor="middle" letter-spacing="1.0" fill="#111">****</text>
<line x1="341.20" y1="401.50" x2="341.20" y2="509.10" stroke="#444" stroke-width="1.0" />
<line x1="337.00" y1="509.10" x2="412.90" y2="509.10" stroke="#444" stroke-width="1.0" />
<line x1="337.00" y1="401.50" x2="341.20" y2="401.50" stroke="#444" stroke-width="1.0" />
<line x1="336.80" y1="410.00" x2="341.20" y2="410.00" stroke="#444" stroke-width="1.0" />
<text x="334.60" y="412.60" font-size="8.3" text-anchor="end" fill="#222" stroke="#222" stroke-width="0.18">6</text>
<line x1="336.80" y1="443.10" x2="341.20" y2="443.10" stroke="#444" stroke-width="1.0" />
<text x="334.60" y="445.70" font-size="8.3" text-anchor="end" fill="#222" stroke="#222" stroke-width="0.18">4</text>
<line x1="336.80" y1="476.20" x2="341.20" y2="476.20" stroke="#444" stroke-width="1.0" />
<text x="334.60" y="478.80" font-size="8.3" text-anchor="end" fill="#222" stroke="#222" stroke-width="0.18">2</text>
<line x1="336.80" y1="509.30" x2="341.20" y2="509.30" stroke="#444" stroke-width="1.0" />
<text x="334.60" y="511.90" font-size="8.3" text-anchor="end" fill="#222" stroke="#222" stroke-width="0.18">0</text>
<line x1="352.10" y1="509.10" x2="352.10" y2="513.00" stroke="#444" stroke-width="1.0" />
<line x1="368.40" y1="509.10" x2="368.40" y2="513.00" stroke="#444" stroke-width="1.0" />
<line x1="385.00" y1="509.10" x2="385.00" y2="513.00" stroke="#444" stroke-width="1.0" />
<line x1="401.40" y1="509.10" x2="401.40" y2="513.00" stroke="#444" stroke-width="1.0" />
<text transform="translate(324.75 455.00) rotate(-90)" font-size="7.4" text-anchor="middle" fill="#222" stroke="#222" stroke-width="0.18">relative mRNA level <tspan font-style="italic">fat-7</tspan></text>
<text x="354.70" y="520.60" font-size="7.09" text-anchor="end" fill="#222" transform="rotate(-45 354.70 520.60)" stroke="#222" stroke-width="0.18">wild -type</text>
<text x="370.80" y="519.10" font-size="6.63" text-anchor="end" fill="#222" transform="rotate(-45 370.80 519.10)" stroke="#222" stroke-width="0.18">vhl- 1</text>
<text x="388.40" y="519.70" font-size="7.2" text-anchor="end" fill="#222" transform="rotate(-45 388.40 519.70)" stroke="#222" stroke-width="0.18">hif-1</text>
<text x="404.70" y="520.20" font-size="7.73" text-anchor="end" fill="#222" transform="rotate(-45 404.70 520.20)" stroke="#222" stroke-width="0.18">hif-1; vhl-1</text>
<circle cx="348.70" cy="492.60" r="2.3" stroke="#2a2a2a" stroke-width="1.0" fill="none"/>
<circle cx="352.10" cy="492.60" r="2.3" stroke="#2a2a2a" stroke-width="1.0" fill="none"/>
<circle cx="355.60" cy="492.60" r="2.3" stroke="#2a2a2a" stroke-width="1.0" fill="none"/>
<line x1="348.20" y1="492.60" x2="356.20" y2="492.60" stroke="#333" stroke-width="1.2" />
<circle cx="365.30" cy="507.30" r="2.2" stroke="#333" stroke-width="0.8" fill="none"/>
<circle cx="367.70" cy="503.70" r="2.2" stroke="#333" stroke-width="0.8" fill="none"/>
<circle cx="372.40" cy="504.90" r="2.2" stroke="#333" stroke-width="0.8" fill="none"/>
<circle cx="369.90" cy="507.30" r="2.2" stroke="#333" stroke-width="0.8" fill="none"/>
<line x1="364.00" y1="506.00" x2="373.00" y2="506.00" stroke="#222" stroke-width="1.2" />
<circle cx="384.70" cy="463.00" r="2.2" stroke="#333" stroke-width="0.8" fill="none"/>
<circle cx="381.80" cy="479.90" r="2.2" stroke="#333" stroke-width="0.8" fill="none"/>
<circle cx="381.80" cy="484.30" r="2.2" stroke="#333" stroke-width="0.8" fill="none"/>
<circle cx="388.30" cy="483.50" r="2.2" stroke="#333" stroke-width="0.8" fill="none"/>
<line x1="379.50" y1="477.30" x2="390.00" y2="477.30" stroke="#333" stroke-width="1.0" />
<line x1="381.50" y1="472.50" x2="388.00" y2="472.50" stroke="#333" stroke-width="1.0" />
<line x1="381.50" y1="481.80" x2="388.00" y2="481.80" stroke="#333" stroke-width="1.0" />
<line x1="384.70" y1="472.50" x2="384.70" y2="481.80" stroke="#333" stroke-width="1.0" />
<circle cx="401.40" cy="406.50" r="2.2" stroke="#333" stroke-width="0.8" fill="none"/>
<circle cx="398.20" cy="444.50" r="2.2" stroke="#333" stroke-width="0.8" fill="none"/>
<circle cx="404.40" cy="447.50" r="2.2" stroke="#333" stroke-width="0.8" fill="none"/>
<circle cx="401.40" cy="456.10" r="2.2" stroke="#333" stroke-width="0.8" fill="none"/>
<line x1="396.00" y1="438.50" x2="407.00" y2="438.50" stroke="#333" stroke-width="1.0" />
<line x1="397.50" y1="427.80" x2="405.30" y2="427.80" stroke="#333" stroke-width="1.0" />
<line x1="397.50" y1="448.80" x2="405.30" y2="448.80" stroke="#333" stroke-width="1.0" />
<line x1="401.40" y1="427.80" x2="401.40" y2="448.80" stroke="#333" stroke-width="1.0" />
<polyline points="383.80,380.70 383.80,378.10 400.50,378.10 400.50,380.70" stroke="#444" stroke-width="1.0" fill="none"/>
<text x="392.70" y="380.05" font-size="10.0" font-weight="bold" text-anchor="middle" letter-spacing="1.0" fill="#111">*</text>
<polyline points="353.50,398.40 353.50,395.90 400.50,395.90 400.50,398.40" stroke="#444" stroke-width="1.0" fill="none"/>
<text x="377.20" y="397.35" font-size="10.0" font-weight="bold" text-anchor="middle" letter-spacing="1.0" fill="#111">**</text>
<polyline points="353.50,419.10 353.50,416.20 385.80,416.20 385.80,419.10" stroke="#444" stroke-width="1.0" fill="none"/>
<text x="370.10" y="417.95" font-size="10.0" font-weight="bold" text-anchor="middle" letter-spacing="1.0" fill="#111">*</text>
<polyline points="353.50,441.90 353.50,439.40 369.80,439.40 369.80,441.90" stroke="#444" stroke-width="1.0" fill="none"/>
<text x="362.20" y="440.85" font-size="10.0" font-weight="bold" text-anchor="middle" letter-spacing="1.0" fill="#111">****</text>
</svg>
</body></html>
